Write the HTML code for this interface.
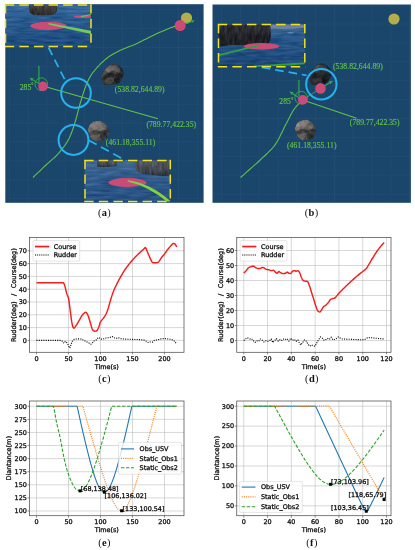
<!DOCTYPE html>
<html lang="en"><head><meta charset="utf-8"><title>Figure</title>
<style>html,body{margin:0;padding:0;background:#fff}svg{display:block}.g{font-family:"Liberation Serif", "DejaVu Serif", serif;font-size:7.7px;fill:#62c24a;stroke:#62c24a;stroke-width:0.15px;letter-spacing:0.03px}.t{font-family:"DejaVu Sans", "Liberation Sans", sans-serif;font-size:6.45px;fill:#111;stroke:#111;stroke-width:0.3px}.l{font-size:6.5px}.cap{font-family:"Liberation Serif", "DejaVu Serif", serif;font-size:10.4px;fill:#111;letter-spacing:0.35px}</style></head><body>
<svg width="415" height="550" viewBox="0 0 415 550">
<defs>
<linearGradient id="water" x1="0" y1="0" x2="0" y2="1"><stop offset="0" stop-color="#3c6c9e"/><stop offset="0.3" stop-color="#2c5d91"/><stop offset="1" stop-color="#1d497a"/></linearGradient>
<linearGradient id="water2" x1="0" y1="0" x2="0" y2="1"><stop offset="0" stop-color="#42698f"/><stop offset="0.3" stop-color="#345e8c"/><stop offset="1" stop-color="#244f80"/></linearGradient>
<linearGradient id="water3" x1="0" y1="0" x2="0" y2="1"><stop offset="0" stop-color="#38648f"/><stop offset="0.3" stop-color="#29588a"/><stop offset="1" stop-color="#1b4575"/></linearGradient>
<linearGradient id="rockg" x1="0" y1="0" x2="1" y2="1"><stop offset="0" stop-color="#66625f"/><stop offset="0.4" stop-color="#3d3c3b"/><stop offset="1" stop-color="#202125"/></linearGradient>
<linearGradient id="rockg2" x1="0" y1="0" x2="1" y2="1"><stop offset="0" stop-color="#8c8783"/><stop offset="0.5" stop-color="#615e5b"/><stop offset="1" stop-color="#2e2e32"/></linearGradient>
<linearGradient id="cliff" x1="0" y1="0" x2="0" y2="1"><stop offset="0" stop-color="#4e4b48"/><stop offset="1" stop-color="#2c2b2b"/></linearGradient>
<linearGradient id="cliff2" x1="0" y1="0" x2="0" y2="1"><stop offset="0" stop-color="#555b64"/><stop offset="0.7" stop-color="#434850"/><stop offset="1" stop-color="#2a2e35"/></linearGradient>
<linearGradient id="cliff3" x1="0" y1="0" x2="0" y2="1"><stop offset="0" stop-color="#2e3036"/><stop offset="1" stop-color="#1a1c20"/></linearGradient>
<filter id="waterf" x="0" y="0" width="100%" height="100%" color-interpolation-filters="sRGB"><feTurbulence type="fractalNoise" baseFrequency="0.06 0.38" numOctaves="2" seed="5" result="n"/><feColorMatrix in="n" type="matrix" values="1 0 0 0 0  1 0 0 0 0  1 0 0 0 0  0 0 0 0 1" result="g"/><feComposite in="SourceGraphic" in2="g" operator="arithmetic" k1="0" k2="1" k3="0.2" k4="-0.1" result="w"/><feGaussianBlur in="w" stdDeviation="0.5"/></filter>
<filter id="rocktex" x="-5%" y="-5%" width="110%" height="110%" color-interpolation-filters="sRGB"><feTurbulence type="fractalNoise" baseFrequency="0.22" numOctaves="2" seed="11" result="n"/><feColorMatrix in="n" type="matrix" values="1 0 0 0 0  1 0 0 0 0  1 0 0 0 0  0 0 0 0 1" result="g"/><feComposite in="SourceGraphic" in2="g" operator="arithmetic" k1="0" k2="1" k3="0.26" k4="-0.13" result="w"/><feComposite in="w" in2="SourceGraphic" operator="in" result="c"/><feGaussianBlur in="c" stdDeviation="0.45"/></filter>
<filter id="clifftex" x="-5%" y="-5%" width="110%" height="110%" color-interpolation-filters="sRGB"><feTurbulence type="fractalNoise" baseFrequency="0.4 0.12" numOctaves="2" seed="4" result="n"/><feColorMatrix in="n" type="matrix" values="1 0 0 0 0  1 0 0 0 0  1 0 0 0 0  0 0 0 0 1" result="g"/><feComposite in="SourceGraphic" in2="g" operator="arithmetic" k1="0" k2="1" k3="0.22" k4="-0.11" result="w"/><feComposite in="w" in2="SourceGraphic" operator="in" result="c"/><feGaussianBlur in="c" stdDeviation="0.4"/></filter>
<filter id="soft"><feGaussianBlur stdDeviation="0.35"/></filter>
</defs>
<rect width="415" height="550" fill="#fff"/>
<rect x="5.3" y="4.2" width="198.3" height="198.6" fill="#1b466c"/>
<path d="M9.3 4.2 V202.8 M28.1 4.2 V202.8 M46.9 4.2 V202.8 M65.7 4.2 V202.8 M84.5 4.2 V202.8 M103.3 4.2 V202.8 M122.1 4.2 V202.8 M140.9 4.2 V202.8 M159.7 4.2 V202.8 M178.5 4.2 V202.8 M197.3 4.2 V202.8 M5.3 9.7 H203.6 M5.3 28.6 H203.6 M5.3 47.5 H203.6 M5.3 66.4 H203.6 M5.3 85.3 H203.6 M5.3 104.2 H203.6 M5.3 123.1 H203.6 M5.3 142.0 H203.6 M5.3 160.9 H203.6 M5.3 179.8 H203.6 M5.3 198.7 H203.6" stroke="#ffffff" stroke-opacity="0.04" stroke-width="0.8" fill="none"/>
<path d="M33.0 177.5 L34.8 175.7 L37.5 173.2 L40.5 170.3 L43.4 167.4 L46.0 165.0 L48.1 163.1 L50.1 161.3 L51.9 159.7 L53.6 158.3 L55.0 157.0 L56.2 155.9 L57.1 154.9 L57.8 154.1 L58.6 153.3 L59.4 152.3 L60.3 151.2 L61.2 150.1 L62.2 148.9 L63.1 147.7 L64.0 146.5 L64.9 145.3 L65.7 144.1 L66.6 142.8 L67.4 141.6 L68.1 140.3 L68.8 139.1 L69.4 137.8 L69.9 136.6 L70.5 135.3 L71.0 134.0 L71.5 132.7 L72.0 131.4 L72.5 130.0 L73.0 128.6 L73.5 127.2 L74.0 125.7 L74.4 124.2 L74.9 122.6 L75.4 121.0 L75.8 119.5 L76.2 118.0 L76.7 116.5 L77.1 115.0 L77.5 113.4 L77.9 111.9 L78.3 110.3 L78.7 108.7 L79.2 107.1 L79.6 105.5 L80.0 104.0 L80.4 102.5 L80.9 101.1 L81.3 99.6 L81.7 98.2 L82.2 96.7 L82.7 95.2 L83.2 93.6 L83.6 92.1 L84.2 90.5 L84.7 89.0 L85.3 87.5 L85.8 85.9 L86.4 84.4 L87.0 82.9 L87.7 81.4 L88.4 80.0 L89.1 78.6 L89.9 77.2 L90.7 75.8 L91.5 74.5 L92.4 73.2 L93.3 72.0 L94.3 70.8 L95.3 69.5 L96.4 68.3 L97.5 67.0 L98.7 65.8 L99.9 64.5 L101.2 63.2 L102.5 62.0 L103.8 60.8 L105.2 59.6 L106.5 58.5 L108.0 57.4 L109.5 56.3 L111.1 55.3 L112.8 54.3 L114.5 53.3 L116.2 52.4 L118.0 51.5 L119.8 50.6 L121.6 49.8 L123.4 49.0 L125.3 48.2 L127.0 47.5 L128.7 46.8 L130.3 46.2 L132.0 45.6 L133.5 45.0 L135.0 44.4 L136.3 43.8 L137.4 43.3 L138.5 42.7 L139.8 42.0 L141.5 41.2 L143.6 40.1 L146.1 38.9 L148.7 37.6 L151.4 36.2 L154.0 35.0 L156.6 33.8 L159.2 32.6 L161.9 31.5 L164.3 30.4 L166.5 29.5 L168.3 28.7 L169.9 28.1 L171.3 27.5 L172.7 27.1 L174.0 26.6 L175.4 26.2 L176.8 25.8 L178.1 25.5 L179.2 25.2 L180.0 25.0" fill="none" stroke="#62c24a" stroke-width="1.1" stroke-linejoin="round"/>
<path d="M43 86 L158 118.8" stroke="#62c24a" stroke-width="1.05" fill="none"/>
<g filter="url(#rocktex)">
<path d="M105.3 69.1 L108.5 65.0 L114.3 63.4 L119.2 65.8 L122.5 69.1 L123.8 73.2 L122.5 78.1 L119.2 83.0 L114.3 84.6 L108.5 85.5 L103.6 84.6 L101.7 80.5 L102.0 75.6 L103.3 71.5Z" fill="url(#rockg)"/>
<path d="M105.5 69.6 L110.1 65.2 L116.3 65.6 L113.2 70.5 L108.3 73.3Z" fill="#8d8783" fill-opacity="0.5"/>
<path d="M116.3 65.6 L120.7 68.9 L119.4 73.3 L113.2 70.5Z" fill="#7a7572" fill-opacity="0.35"/>
<path d="M115.4 74.5 L119.8 72.7 L123.4 74.5 L121.6 80.6 L116.7 84.4 L113.9 81.1Z" fill="#17181c" fill-opacity="0.5"/>
<path d="M103.0 75.6 L108.3 73.1 L115.4 74.5 L113.9 77.5 L107.2 78.0 L103.5 79.3Z" fill="#17181c" fill-opacity="0.45"/>
<path d="M104.4 80.2 L107.2 78.0 L113.9 77.5 L113.9 81.1 L110.1 84.6 L105.7 83.3Z" fill="#6c6865" fill-opacity="0.35"/>
</g>
<g filter="url(#rocktex)">
<path d="M89.7 124.7 L93.0 121.5 L100.4 120.6 L104.5 123.1 L107.7 126.4 L109.4 132.9 L107.7 137.0 L105.3 140.3 L100.4 141.4 L96.3 141.9 L92.2 139.5 L89.7 136.2 L87.6 129.6Z" fill="url(#rockg2)"/>
<path d="M91.3 126.6 L95.9 122.3 L102.0 122.7 L98.9 127.4 L94.1 130.2Z" fill="#8d8783" fill-opacity="0.5"/>
<path d="M102.0 122.7 L106.3 125.9 L105.0 130.2 L98.9 127.4Z" fill="#7a7572" fill-opacity="0.35"/>
<path d="M101.1 131.2 L105.5 129.5 L109.0 131.2 L107.2 137.2 L102.4 140.8 L99.6 137.6Z" fill="#17181c" fill-opacity="0.5"/>
<path d="M88.9 132.3 L94.1 130.0 L101.1 131.2 L99.6 134.2 L93.0 134.7 L89.3 135.9Z" fill="#17181c" fill-opacity="0.45"/>
<path d="M90.2 136.8 L93.0 134.7 L99.6 134.2 L99.6 137.6 L95.9 141.0 L91.5 139.8Z" fill="#6c6865" fill-opacity="0.35"/>
</g>
<text class="g" x="114.8" y="92">(538.82,644.89)</text>
<text class="g" x="146.4" y="126.8">(789.77,422.35)</text>
<text class="g" x="105.8" y="144.6">(461.18,355.11)</text>
<circle cx="41.3" cy="84.2" r="6.3" fill="none" stroke="#35ae4a" stroke-width="0.9"/>
<path d="M38.9 65.8 V83.0" stroke="#35ae4a" stroke-width="1.1" fill="none"/>
<path d="M43.0 86.4 L32.9 79.9" stroke="#35ae4a" stroke-width="1.05" fill="none"/>
<path d="M29.5 77.7 L33.8 78.4 L31.9 81.3 Z" fill="#35ae4a"/>
<circle cx="43.0" cy="86.4" r="4.8" fill="#cb4b76"/>
<text class="g" x="19.7" y="89.6">285<tspan font-size="5.5" dy="-2.2">°</tspan></text>
<circle cx="186.5" cy="18" r="5.6" fill="#b3ae4b"/>
<circle cx="180.2" cy="25.5" r="5.5" fill="#cb4b76"/>
<path d="M186.0 23.6 L191.8 21.5" stroke="#35ae4a" stroke-width="1.05" fill="none"/>
<path d="M194.8 20.4 L192.3 22.8 L191.3 20.2 Z" fill="#35ae4a"/>
<circle cx="76" cy="93" r="14.8" fill="none" stroke="#25b3ee" stroke-width="2"/>
<circle cx="73.5" cy="140" r="14.9" fill="none" stroke="#25b3ee" stroke-width="2"/>
<path d="M48.5 47.5 L66 82" stroke="#25b3ee" stroke-width="1.7" stroke-dasharray="8.5 5" fill="none"/>
<path d="M88.7 140.2 L127.5 161.6" stroke="#25b3ee" stroke-width="1.7" stroke-dasharray="9 5" fill="none"/>
<clipPath id="ca1"><rect x="5.5" y="5.0" width="85.5" height="41.5"/></clipPath>
<g clip-path="url(#ca1)">
<rect x="4.5" y="4.0" width="87.5" height="43.5" fill="url(#water)" filter="url(#waterf)"/>
<path d="M29 3 H57 V10.5 Q56.5 14.5 50 15.2 H36 Q29.5 14.6 29 10.5Z" fill="url(#cliff)" filter="url(#clifftex)"/>
<ellipse cx="83" cy="16.7" rx="9.5" ry="1.4" fill="#cb4b76"/>
<path d="M81 16.6 L91 14.6" stroke="#6dbf55" stroke-width="1.1"/>
<ellipse cx="48.5" cy="25.9" rx="18.2" ry="4.1" fill="#cb4b76"/>
<path d="M48.5 23.1 L91.5 30.9 V34.2 L48.5 24.5Z" fill="#74c95a"/>
</g>
<path d="M4.8 5.0 H91.8 M4.8 46.5 H91.8 M5.5 4.2 V47.2 M91.0 4.2 V47.2" fill="none" stroke="#f2e21a" stroke-width="1.5" stroke-dasharray="9.4 5.2" stroke-linecap="butt"/>
<clipPath id="ca2"><rect x="85.0" y="160.5" width="85.3" height="40.9"/></clipPath>
<g clip-path="url(#ca2)">
<rect x="84.0" y="159.5" width="87.3" height="42.9" fill="url(#water2)" filter="url(#waterf)"/>
<path d="M97 158 H116.8 V166 Q108 167.6 97 166.8Z" fill="url(#cliff2)" filter="url(#clifftex)"/>
<path d="M135.2 158 H171 V175.5 Q160 177 150 174.6 Q140 174.6 135.6 170Z" fill="url(#cliff2)" filter="url(#clifftex)"/>
<ellipse cx="127.5" cy="182.5" rx="19" ry="4.4" fill="#cb4b76"/>
<path d="M127.7 180.3 Q150 183 171 201.5 L167.5 202 Q148 186 127.7 181.4Z" fill="#80d23f"/>
</g>
<path d="M84.2 160.5 H171.1 M84.2 201.4 H171.1 M85.0 159.8 V202.2 M170.3 159.8 V202.2" fill="none" stroke="#f2e21a" stroke-width="1.5" stroke-dasharray="9.4 5.2" stroke-linecap="butt"/>
<rect x="212.5" y="4.5" width="198.4" height="198.3" fill="#1b466c"/>
<path d="M221.6 4.5 V202.8 M240.4 4.5 V202.8 M259.2 4.5 V202.8 M278.0 4.5 V202.8 M296.8 4.5 V202.8 M315.6 4.5 V202.8 M334.4 4.5 V202.8 M353.2 4.5 V202.8 M372.0 4.5 V202.8 M390.8 4.5 V202.8 M409.6 4.5 V202.8 M212.5 5.1 H410.9 M212.5 24.0 H410.9 M212.5 42.9 H410.9 M212.5 61.8 H410.9 M212.5 80.7 H410.9 M212.5 99.6 H410.9 M212.5 118.5 H410.9 M212.5 137.4 H410.9 M212.5 156.3 H410.9 M212.5 175.2 H410.9 M212.5 194.1 H410.9" stroke="#ffffff" stroke-opacity="0.04" stroke-width="0.8" fill="none"/>
<path d="M240.5 177.5 L241.6 176.5 L243.3 175.1 L245.2 173.4 L247.1 171.7 L249.0 170.0 L250.8 168.4 L252.6 166.8 L254.4 165.2 L256.3 163.6 L258.0 162.0 L259.7 160.5 L261.3 158.9 L262.9 157.4 L264.5 156.0 L266.0 154.5 L267.5 153.1 L269.0 151.6 L270.4 150.2 L271.8 148.9 L273.0 147.5 L274.1 146.2 L275.0 144.9 L275.8 143.7 L276.7 142.4 L277.5 141.0 L278.3 139.5 L279.2 137.9 L280.0 136.3 L280.8 134.6 L281.6 133.0 L282.4 131.4 L283.2 129.8 L284.0 128.1 L284.7 126.6 L285.5 125.0 L286.3 123.5 L287.1 121.9 L287.9 120.4 L288.6 119.0 L289.3 117.7 L289.9 116.5 L290.4 115.4 L291.0 114.4 L291.5 113.5 L292.0 112.5 L292.6 111.5 L293.2 110.6 L293.7 109.7 L294.4 108.9 L295.0 108.0 L295.7 107.2 L296.3 106.4 L297.0 105.6 L297.7 104.8 L298.5 104.0 L299.4 103.1 L300.3 102.2 L301.3 101.2 L302.1 100.5 L302.7 99.9" fill="none" stroke="#62c24a" stroke-width="1.1" stroke-linejoin="round"/>
<path d="M302.7 99.9 L356.5 118.2" stroke="#62c24a" stroke-width="1.05" fill="none"/>
<g filter="url(#rocktex)">
<path d="M313.0 68.9 L316.2 64.8 L322.0 63.2 L326.9 65.6 L330.2 68.9 L331.5 73.0 L330.2 77.9 L326.9 82.8 L322.0 84.4 L316.2 85.3 L311.3 84.4 L309.4 80.3 L309.7 75.4 L311.0 71.3Z" fill="url(#rockg)"/>
<path d="M313.2 69.4 L317.8 65.0 L324.0 65.4 L320.9 70.3 L316.0 73.1Z" fill="#8d8783" fill-opacity="0.5"/>
<path d="M324.0 65.4 L328.4 68.7 L327.1 73.1 L320.9 70.3Z" fill="#7a7572" fill-opacity="0.35"/>
<path d="M323.1 74.2 L327.5 72.5 L331.1 74.2 L329.3 80.4 L324.4 84.2 L321.6 80.9Z" fill="#17181c" fill-opacity="0.5"/>
<path d="M310.7 75.4 L316.0 72.9 L323.1 74.2 L321.6 77.3 L314.9 77.8 L311.2 79.1Z" fill="#17181c" fill-opacity="0.45"/>
<path d="M312.1 80.0 L314.9 77.8 L321.6 77.3 L321.6 80.9 L317.8 84.4 L313.4 83.1Z" fill="#6c6865" fill-opacity="0.35"/>
</g>
<path d="M313.0 68.9 L316.2 64.8 L322.0 63.2 L326.9 65.6 L330.2 68.9 L331.5 73.0 L330.2 77.9 L326.9 82.8 L322.0 84.4 L316.2 85.3 L311.3 84.4 L309.4 80.3 L309.7 75.4 L311.0 71.3Z" fill="#0c1522" fill-opacity="0.38"/>
<g filter="url(#rocktex)">
<path d="M296.7 123.6 L300.0 120.4 L307.4 119.5 L311.5 122.0 L314.7 125.3 L316.4 131.8 L314.7 135.9 L312.3 139.2 L307.4 140.3 L303.3 140.8 L299.2 138.4 L296.7 135.1 L294.6 128.5Z" fill="url(#rockg2)"/>
<path d="M298.3 125.5 L302.9 121.2 L309.0 121.6 L305.9 126.3 L301.1 129.1Z" fill="#8d8783" fill-opacity="0.5"/>
<path d="M309.0 121.6 L313.3 124.8 L312.0 129.1 L305.9 126.3Z" fill="#7a7572" fill-opacity="0.35"/>
<path d="M308.1 130.2 L312.5 128.4 L316.0 130.2 L314.2 136.1 L309.4 139.7 L306.6 136.5Z" fill="#17181c" fill-opacity="0.5"/>
<path d="M295.9 131.2 L301.1 128.9 L308.1 130.2 L306.6 133.1 L300.1 133.6 L296.3 134.8Z" fill="#17181c" fill-opacity="0.45"/>
<path d="M297.2 135.7 L300.1 133.6 L306.6 133.1 L306.6 136.5 L302.9 139.9 L298.5 138.7Z" fill="#6c6865" fill-opacity="0.35"/>
</g>
<text class="g" x="333" y="68.9">(538.82,644.89)</text>
<text class="g" x="349.8" y="125.4">(789.77,422.35)</text>
<text class="g" x="287" y="147.8">(461.18,355.11)</text>
<path d="M302.7 99.9 L320.5 88.4" stroke="#35ae4a" stroke-width="0.9"/>
<circle cx="301.1" cy="97.7" r="6.3" fill="none" stroke="#35ae4a" stroke-width="0.9"/>
<path d="M298.9 80.0 V96.0" stroke="#35ae4a" stroke-width="1.1" fill="none"/>
<path d="M302.8 99.9 L292.7 93.7" stroke="#35ae4a" stroke-width="1.05" fill="none"/>
<path d="M289.3 91.6 L293.6 92.3 L291.8 95.1 Z" fill="#35ae4a"/>
<circle cx="302.8" cy="99.9" r="4.8" fill="#cb4b76"/>
<text class="g" x="279.3" y="103.9">285<tspan font-size="5.5" dy="-2.2">°</tspan></text>
<path d="M320.5 88.4 L329.6 82.8" stroke="#35ae4a" stroke-width="1.05" fill="none"/>
<path d="M333.0 80.7 L330.5 84.2 L328.7 81.4 Z" fill="#35ae4a"/>
<circle cx="320.5" cy="88.4" r="5.3" fill="#cb4b76"/>
<circle cx="321.35" cy="84.3" r="15.2" fill="none" stroke="#25b3ee" stroke-width="2"/>
<path d="M262 67.5 L306.5 75.3" stroke="#25b3ee" stroke-width="1.7" stroke-dasharray="8.5 5" fill="none"/>
<circle cx="394" cy="19" r="5.6" fill="#b3ae4b"/>
<clipPath id="cb1"><rect x="218.5" y="24.6" width="86.3" height="42.2"/></clipPath>
<g clip-path="url(#cb1)">
<rect x="217.5" y="23.6" width="88.3" height="44.2" fill="url(#water3)" filter="url(#waterf)"/>
<path d="M270 24 H306 V27.6 Q288 29.5 270 28.6Z" fill="#7f8fa3" fill-opacity="0.75"/>
<path d="M218 24 H270.6 V31 Q271.5 40 269 44 Q252 46.5 240 45 Q230 44.5 221 46.5 L218 47Z" fill="url(#cliff3)" filter="url(#clifftex)"/>
<ellipse cx="290.5" cy="32.8" rx="3.5" ry="0.7" fill="#6f93bd" fill-opacity="0.8"/>
<ellipse cx="261.5" cy="46.2" rx="17.8" ry="3.2" fill="#cb4b76"/>
<path d="M217 55.6 L260.3 45" stroke="#2fa044" stroke-width="1.7" fill="none"/>
<path d="M254 66.4 L306 63.3" stroke="#2fa044" stroke-width="2" fill="none"/>
</g>
<path d="M217.8 24.6 H305.6 M217.8 66.8 H305.6 M218.5 23.9 V67.5 M304.8 23.9 V67.5" fill="none" stroke="#f2e21a" stroke-width="1.5" stroke-dasharray="9.4 5.2" stroke-linecap="butt"/>
<text class="cap" x="104.5" y="216.0" text-anchor="middle">(<tspan font-weight="bold">a</tspan>)</text>
<text class="cap" x="311.6" y="216.0" text-anchor="middle">(<tspan font-weight="bold">b</tspan>)</text>
<rect x="29.50" y="237.40" width="154.50" height="114.90" fill="#fff"/>
<path d="M36.50 237.40 V352.30 M68.50 237.40 V352.30 M100.50 237.40 V352.30 M132.50 237.40 V352.30 M164.50 237.40 V352.30 M29.50 340.40 H184.00 M29.50 327.60 H184.00 M29.50 314.80 H184.00 M29.50 302.00 H184.00 M29.50 289.20 H184.00 M29.50 276.40 H184.00 M29.50 263.60 H184.00 M29.50 250.80 H184.00" stroke="#b0b0b0" stroke-width="0.5" fill="none"/>
<path d="M36.50 352.30 v2 M68.50 352.30 v2 M100.50 352.30 v2 M132.50 352.30 v2 M164.50 352.30 v2 M29.50 340.40 h-2 M29.50 327.60 h-2 M29.50 314.80 h-2 M29.50 302.00 h-2 M29.50 289.20 h-2 M29.50 276.40 h-2 M29.50 263.60 h-2 M29.50 250.80 h-2" stroke="#222" stroke-width="0.5" fill="none"/>
<text class="t" x="36.50" y="360.90" text-anchor="middle">0</text>
<text class="t" x="68.50" y="360.90" text-anchor="middle">50</text>
<text class="t" x="100.50" y="360.90" text-anchor="middle">100</text>
<text class="t" x="132.50" y="360.90" text-anchor="middle">150</text>
<text class="t" x="164.50" y="360.90" text-anchor="middle">200</text>
<text class="t" x="26.90" y="342.70" text-anchor="end">0</text>
<text class="t" x="26.90" y="329.90" text-anchor="end">10</text>
<text class="t" x="26.90" y="317.10" text-anchor="end">20</text>
<text class="t" x="26.90" y="304.30" text-anchor="end">30</text>
<text class="t" x="26.90" y="291.50" text-anchor="end">40</text>
<text class="t" x="26.90" y="278.70" text-anchor="end">50</text>
<text class="t" x="26.90" y="265.90" text-anchor="end">60</text>
<text class="t" x="26.90" y="253.10" text-anchor="end">70</text>
<text class="t" x="106.75" y="368.60" text-anchor="middle">Time(s)</text>
<g transform="translate(15.90 294.85) rotate(-90)">
<text class="t l" x="-6.6" text-anchor="end">Rudder(deg)</text><text class="t l" x="0" text-anchor="middle">/</text><text class="t l" x="6.6">Course(deg)</text>
</g>
<text class="cap" x="104.5" y="382.1" text-anchor="middle">(<tspan font-weight="bold">c</tspan>)</text>
<path d="M36.50 340.40 L37.14 340.40 L37.78 340.40 L38.42 340.40 L39.06 340.40 L39.70 340.40 L40.34 340.40 L40.98 340.40 L41.62 340.40 L42.26 340.40 L42.90 340.40 L43.54 340.40 L44.18 340.40 L44.82 340.40 L45.46 340.40 L46.10 340.40 L46.74 340.40 L47.38 340.40 L48.02 340.40 L48.66 340.40 L49.30 340.40 L49.94 340.40 L50.58 340.40 L51.22 340.40 L51.86 340.40 L52.50 340.40 L53.14 340.40 L53.78 340.40 L54.42 340.40 L55.06 340.40 L55.70 340.40 L56.34 340.40 L56.98 340.40 L57.62 340.40 L58.26 340.40 L58.90 340.40 L59.54 340.40 L60.18 340.40 L60.82 340.40 L61.46 340.61 L62.10 341.10 L62.74 341.68 L63.38 342.59 L64.02 343.22 L64.66 342.32 L65.30 341.42 L65.94 341.72 L66.58 342.32 L67.22 343.16 L67.86 344.31 L68.50 345.52 L69.14 347.09 L69.78 348.08 L70.42 346.55 L71.06 344.24 L71.70 342.69 L72.34 341.33 L72.98 340.40 L73.62 339.81 L74.26 339.35 L74.90 339.12 L75.54 339.03 L76.18 338.96 L76.82 338.91 L77.46 338.87 L78.10 338.86 L78.74 338.88 L79.38 338.91 L80.02 338.96 L80.66 339.04 L81.30 339.12 L81.94 339.31 L82.58 339.65 L83.22 340.04 L83.86 340.40 L84.50 340.72 L85.14 341.04 L85.78 341.36 L86.42 341.68 L87.06 341.99 L87.70 342.30 L88.34 342.61 L88.98 342.96 L89.62 343.46 L90.26 343.99 L90.90 344.24 L91.54 343.88 L92.18 343.10 L92.82 342.32 L93.46 341.61 L94.10 340.90 L94.74 340.40 L95.38 340.17 L96.02 340.00 L96.66 339.76 L97.30 339.01 L97.94 337.98 L98.58 337.46 L99.22 337.79 L99.86 338.43 L100.50 338.86 L101.14 338.99 L101.78 339.09 L102.42 339.12 L103.06 339.03 L103.70 338.82 L104.34 338.61 L104.98 338.40 L105.62 338.18 L106.26 337.98 L106.90 337.84 L107.54 337.77 L108.18 337.72 L108.82 337.66 L109.46 337.58 L110.10 337.37 L110.74 337.02 L111.38 336.70 L112.02 336.56 L112.66 336.76 L113.30 337.19 L113.94 337.58 L114.58 337.91 L115.22 338.22 L115.86 338.35 L116.50 338.27 L117.14 338.10 L117.78 337.92 L118.42 337.84 L119.06 337.94 L119.70 338.17 L120.34 338.43 L120.98 338.61 L121.62 338.70 L122.26 338.79 L122.90 338.86 L123.54 338.93 L124.18 338.99 L124.82 339.04 L125.46 339.08 L126.10 339.12 L126.74 339.15 L127.38 339.19 L128.02 339.21 L128.66 339.24 L129.30 339.26 L129.94 339.28 L130.58 339.31 L131.22 339.33 L131.86 339.35 L132.50 339.38 L133.14 339.40 L133.78 339.42 L134.42 339.45 L135.06 339.47 L135.70 339.49 L136.34 339.51 L136.98 339.54 L137.62 339.57 L138.26 339.60 L138.90 339.63 L139.54 339.67 L140.18 339.71 L140.82 339.76 L141.46 339.81 L142.10 339.87 L142.74 339.95 L143.38 340.04 L144.02 340.14 L144.66 340.35 L145.30 340.68 L145.94 341.06 L146.58 341.42 L147.22 341.84 L147.86 342.26 L148.50 342.45 L149.14 342.32 L149.78 342.07 L150.42 341.94 L151.06 342.00 L151.70 342.13 L152.34 342.19 L152.98 341.78 L153.62 340.96 L154.26 340.40 L154.90 340.22 L155.54 340.10 L156.18 340.00 L156.82 339.89 L157.46 339.76 L158.10 339.64 L158.74 339.51 L159.38 339.38 L160.02 339.21 L160.66 339.01 L161.30 338.84 L161.94 338.74 L162.58 338.69 L163.22 338.65 L163.86 338.62 L164.50 338.61 L165.14 338.64 L165.78 338.71 L166.42 338.80 L167.06 338.90 L167.70 338.99 L168.34 339.06 L168.98 339.12 L169.62 339.19 L170.26 339.27 L170.90 339.38 L171.54 339.54 L172.18 339.77 L172.82 340.06 L173.46 340.40 L174.10 340.86 L174.74 341.47 L175.38 342.19 L176.02 343.15 L176.66 344.24" fill="none" stroke="#000" stroke-width="1.1" stroke-dasharray="1.05 1.25"/>
<path d="M36.50 282.80 L37.14 282.80 L37.78 282.80 L38.42 282.80 L39.06 282.80 L39.70 282.80 L40.34 282.80 L40.98 282.80 L41.62 282.80 L42.26 282.80 L42.90 282.80 L43.54 282.80 L44.18 282.80 L44.82 282.80 L45.46 282.80 L46.10 282.80 L46.74 282.80 L47.38 282.80 L48.02 282.80 L48.66 282.80 L49.30 282.80 L49.94 282.80 L50.58 282.80 L51.22 282.80 L51.86 282.80 L52.50 282.80 L53.14 282.80 L53.78 282.80 L54.42 282.80 L55.06 282.80 L55.70 282.80 L56.34 282.80 L56.98 282.80 L57.62 282.80 L58.26 282.80 L58.90 282.80 L59.54 282.80 L60.18 282.80 L60.82 282.80 L61.46 282.80 L62.10 282.80 L62.74 282.80 L63.38 282.80 L64.02 283.66 L64.66 285.36 L65.30 287.64 L65.94 290.51 L66.58 293.04 L67.22 294.72 L67.86 296.18 L68.50 298.16 L69.14 301.93 L69.78 307.16 L70.42 312.24 L71.06 317.04 L71.70 321.71 L72.34 325.04 L72.98 327.20 L73.62 328.24 L74.26 327.91 L74.90 327.16 L75.54 326.32 L76.18 325.46 L76.82 324.46 L77.46 323.38 L78.10 322.28 L78.74 321.20 L79.38 320.10 L80.02 318.92 L80.66 317.73 L81.30 316.60 L81.94 315.60 L82.58 314.80 L83.22 314.10 L83.86 313.41 L84.50 312.81 L85.14 312.40 L85.78 312.24 L86.42 312.65 L87.06 313.62 L87.70 314.80 L88.34 316.29 L88.98 318.26 L89.62 320.42 L90.26 322.48 L90.90 324.65 L91.54 327.00 L92.18 329.00 L92.82 330.16 L93.46 330.67 L94.10 331.04 L94.74 331.18 L95.38 331.14 L96.02 331.00 L96.66 330.80 L97.30 330.17 L97.94 328.99 L98.58 327.60 L99.22 325.75 L99.86 323.54 L100.50 321.84 L101.14 320.86 L101.78 320.10 L102.42 319.41 L103.06 318.64 L103.70 317.77 L104.34 316.88 L104.98 315.91 L105.62 314.80 L106.26 313.47 L106.90 311.93 L107.54 310.22 L108.18 308.40 L108.82 306.34 L109.46 304.02 L110.10 301.65 L110.74 299.44 L111.38 297.38 L112.02 295.38 L112.66 293.49 L113.30 291.76 L113.94 290.19 L114.58 288.73 L115.22 287.34 L115.86 286.01 L116.50 284.72 L117.14 283.44 L117.78 282.17 L118.42 280.93 L119.06 279.71 L119.70 278.52 L120.34 277.36 L120.98 276.22 L121.62 275.12 L122.26 274.04 L122.90 272.98 L123.54 271.95 L124.18 270.94 L124.82 269.95 L125.46 269.00 L126.10 268.08 L126.74 267.19 L127.38 266.33 L128.02 265.49 L128.66 264.68 L129.30 263.88 L129.94 263.09 L130.58 262.32 L131.22 261.56 L131.86 260.80 L132.50 260.06 L133.14 259.33 L133.78 258.61 L134.42 257.91 L135.06 257.23 L135.70 256.56 L136.34 255.91 L136.98 255.28 L137.62 254.67 L138.26 254.07 L138.90 253.47 L139.54 252.88 L140.18 252.29 L140.82 251.70 L141.46 251.11 L142.10 250.54 L142.74 249.96 L143.38 249.37 L144.02 248.75 L144.66 248.02 L145.30 247.52 L145.94 248.21 L146.58 249.74 L147.22 251.44 L147.86 252.98 L148.50 254.46 L149.14 255.92 L149.78 257.39 L150.42 258.83 L151.06 260.14 L151.70 261.41 L152.34 262.32 L152.98 262.76 L153.62 262.83 L154.26 262.83 L154.90 262.83 L155.54 262.83 L156.18 262.80 L156.82 262.70 L157.46 262.54 L158.10 262.32 L158.74 261.71 L159.38 260.87 L160.02 259.87 L160.66 258.81 L161.30 257.84 L161.94 257.02 L162.58 256.26 L163.22 255.53 L163.86 254.79 L164.50 254.00 L165.14 253.14 L165.78 252.22 L166.42 251.30 L167.06 250.38 L167.70 249.52 L168.34 248.70 L168.98 247.89 L169.62 247.11 L170.26 246.37 L170.90 245.68 L171.54 244.95 L172.18 244.20 L172.82 243.61 L173.46 243.38 L174.10 243.52 L174.74 243.89 L175.38 244.40 L176.02 245.50 L176.66 246.96" fill="none" stroke="#f51d1d" stroke-width="1.45" stroke-linejoin="round"/>
<rect x="29.50" y="237.40" width="154.50" height="114.90" fill="none" stroke="#4d4d4d" stroke-width="0.75"/>
<rect x="33.00" y="240.50" width="46.70" height="20.60" rx="1.2" fill="#fff" fill-opacity="0.8" stroke="#ccc" stroke-width="0.5"/>
<path d="M35.00 246.55 H49.20" stroke="#f51d1d" stroke-width="1.7" fill="none"/>
<text class="t" x="53.80" y="248.85">Course</text>
<path d="M35.00 255.05 H49.20" stroke="#000" stroke-width="1.1" stroke-dasharray="1.05 1.05" fill="none"/>
<text class="t" x="53.80" y="257.35">Rudder</text>
<rect x="236.75" y="237.40" width="154.25" height="114.90" fill="#fff"/>
<path d="M243.75 237.40 V352.30 M267.54 237.40 V352.30 M291.33 237.40 V352.30 M315.13 237.40 V352.30 M338.92 237.40 V352.30 M362.71 237.40 V352.30 M386.50 237.40 V352.30 M236.75 340.50 H391.00 M236.75 325.50 H391.00 M236.75 310.50 H391.00 M236.75 295.50 H391.00 M236.75 280.50 H391.00 M236.75 265.50 H391.00 M236.75 250.50 H391.00" stroke="#b0b0b0" stroke-width="0.5" fill="none"/>
<path d="M243.75 352.30 v2 M267.54 352.30 v2 M291.33 352.30 v2 M315.13 352.30 v2 M338.92 352.30 v2 M362.71 352.30 v2 M386.50 352.30 v2 M236.75 340.50 h-2 M236.75 325.50 h-2 M236.75 310.50 h-2 M236.75 295.50 h-2 M236.75 280.50 h-2 M236.75 265.50 h-2 M236.75 250.50 h-2" stroke="#222" stroke-width="0.5" fill="none"/>
<text class="t" x="243.75" y="360.90" text-anchor="middle">0</text>
<text class="t" x="267.54" y="360.90" text-anchor="middle">20</text>
<text class="t" x="291.33" y="360.90" text-anchor="middle">40</text>
<text class="t" x="315.13" y="360.90" text-anchor="middle">60</text>
<text class="t" x="338.92" y="360.90" text-anchor="middle">80</text>
<text class="t" x="362.71" y="360.90" text-anchor="middle">100</text>
<text class="t" x="386.50" y="360.90" text-anchor="middle">120</text>
<text class="t" x="234.15" y="342.80" text-anchor="end">0</text>
<text class="t" x="234.15" y="327.80" text-anchor="end">10</text>
<text class="t" x="234.15" y="312.80" text-anchor="end">20</text>
<text class="t" x="234.15" y="297.80" text-anchor="end">30</text>
<text class="t" x="234.15" y="282.80" text-anchor="end">40</text>
<text class="t" x="234.15" y="267.80" text-anchor="end">50</text>
<text class="t" x="234.15" y="252.80" text-anchor="end">60</text>
<text class="t" x="313.88" y="368.60" text-anchor="middle">Time(s)</text>
<g transform="translate(223.40 294.85) rotate(-90)">
<text class="t l" x="-6.6" text-anchor="end">Rudder(deg)</text><text class="t l" x="0" text-anchor="middle">/</text><text class="t l" x="6.6">Course(deg)</text>
</g>
<text class="cap" x="312.0" y="382.1" text-anchor="middle">(<tspan font-weight="bold">d</tspan>)</text>
<path d="M243.75 340.50 L244.34 340.00 L244.94 339.50 L245.53 339.00 L246.13 338.60 L246.72 338.20 L247.32 337.80 L247.91 338.10 L248.51 338.40 L249.10 338.70 L249.70 339.00 L250.29 338.90 L250.89 338.80 L251.48 338.70 L252.08 339.30 L252.67 339.90 L253.27 340.50 L253.86 341.10 L254.46 341.70 L255.05 342.30 L255.65 341.80 L256.24 341.30 L256.84 340.80 L257.43 341.00 L258.03 341.20 L258.62 341.40 L259.21 340.60 L259.81 339.80 L260.40 339.00 L261.00 339.40 L261.59 339.80 L262.19 340.20 L262.78 340.80 L263.38 341.40 L263.97 342.00 L264.57 341.60 L265.16 341.20 L265.76 340.80 L266.35 341.00 L266.95 341.20 L267.54 341.40 L268.14 341.30 L268.73 341.20 L269.33 341.10 L269.92 340.40 L270.52 339.70 L271.11 339.00 L271.71 340.20 L272.30 341.40 L272.90 342.60 L273.49 341.90 L274.08 341.20 L274.68 340.50 L275.27 339.90 L275.87 339.30 L276.46 338.70 L277.06 339.50 L277.65 340.30 L278.25 341.10 L278.84 340.60 L279.44 340.10 L280.03 339.60 L280.63 339.90 L281.22 340.20 L281.82 340.50 L282.41 340.00 L283.01 339.50 L283.60 339.00 L284.20 339.20 L284.79 339.40 L285.39 339.60 L285.98 339.30 L286.58 339.00 L287.17 338.70 L287.77 339.50 L288.36 340.30 L288.95 341.10 L289.55 340.10 L290.14 339.10 L290.74 338.10 L291.33 338.80 L291.93 339.50 L292.52 340.20 L293.12 339.90 L293.71 339.60 L294.31 339.30 L294.90 340.00 L295.50 340.70 L296.09 341.40 L296.69 340.90 L297.28 340.40 L297.88 339.90 L298.47 341.10 L299.07 342.30 L299.66 343.50 L300.26 344.25 L300.85 345.00 L301.45 344.20 L302.04 343.40 L302.64 342.60 L303.23 341.70 L303.82 340.80 L304.42 339.90 L305.01 340.30 L305.61 340.70 L306.20 341.10 L306.80 342.10 L307.39 343.10 L307.99 344.10 L308.58 344.80 L309.18 345.50 L309.77 346.20 L310.37 345.80 L310.96 345.40 L311.56 345.00 L312.15 345.30 L312.75 345.60 L313.34 345.90 L313.94 346.00 L314.53 346.10 L315.13 346.20 L315.72 345.00 L316.32 343.80 L316.91 342.60 L317.51 341.60 L318.10 340.60 L318.69 339.60 L319.29 338.70 L319.88 337.80 L320.48 336.90 L321.07 337.30 L321.67 337.70 L322.26 338.10 L322.86 338.80 L323.45 339.50 L324.05 340.20 L324.64 340.00 L325.24 339.80 L325.83 339.60 L326.43 339.20 L327.02 338.80 L327.62 338.40 L328.21 338.70 L328.81 339.00 L329.40 339.30 L330.00 338.60 L330.59 337.90 L331.19 337.20 L331.78 338.10 L332.38 339.00 L332.97 339.90 L333.56 339.70 L334.16 339.50 L334.75 339.30 L335.35 339.00 L335.94 338.70 L336.54 338.40 L337.13 337.90 L337.73 337.40 L338.32 336.90 L338.92 337.30 L339.51 337.70 L340.11 338.10 L340.70 338.32 L341.30 338.55 L341.89 338.77 L342.49 339.00 L343.08 339.02 L343.68 339.05 L344.27 339.07 L344.87 339.10 L345.46 339.12 L346.06 339.15 L346.65 339.17 L347.25 339.19 L347.84 339.21 L348.43 339.23 L349.03 339.24 L349.62 339.26 L350.22 339.28 L350.81 339.30 L351.41 339.33 L352.00 339.36 L352.60 339.39 L353.19 339.42 L353.79 339.45 L354.38 339.48 L354.98 339.51 L355.57 339.54 L356.17 339.57 L356.76 339.60 L357.36 339.62 L357.95 339.63 L358.55 339.64 L359.14 339.66 L359.74 339.68 L360.33 339.69 L360.93 339.70 L361.52 339.72 L362.12 339.74 L362.71 339.75 L363.30 339.64 L363.90 339.52 L364.49 339.41 L365.09 339.30 L365.68 338.93 L366.28 338.55 L366.87 338.18 L367.47 337.80 L368.06 337.76 L368.66 337.73 L369.25 337.69 L369.85 337.65 L370.44 337.71 L371.04 337.76 L371.63 337.82 L372.23 337.88 L372.82 337.93 L373.42 337.99 L374.01 338.04 L374.61 338.10 L375.20 338.16 L375.80 338.21 L376.39 338.27 L376.99 338.32 L377.58 338.38 L378.17 338.44 L378.77 338.49 L379.36 338.55 L379.96 338.61 L380.55 338.66 L381.15 338.72 L381.74 338.77 L382.34 338.83 L382.93 338.89 L383.53 338.94 L384.12 339.00" fill="none" stroke="#000" stroke-width="1.1" stroke-dasharray="1.05 1.25" stroke-linejoin="round"/>
<path d="M243.75 273.00 L244.34 272.45 L244.94 271.92 L245.53 271.36 L246.13 270.75 L246.72 269.99 L247.32 269.12 L247.91 268.32 L248.51 267.75 L249.10 267.40 L249.70 267.13 L250.29 266.90 L250.89 266.70 L251.48 266.50 L252.08 266.30 L252.67 266.16 L253.27 266.10 L253.86 266.28 L254.46 266.71 L255.05 267.21 L255.65 267.60 L256.24 267.90 L256.84 268.19 L257.43 268.41 L258.03 268.50 L258.62 268.49 L259.21 268.46 L259.81 268.41 L260.40 268.35 L261.00 268.09 L261.59 267.67 L262.19 267.45 L262.78 267.52 L263.38 267.69 L263.97 267.90 L264.57 268.23 L265.16 268.69 L265.76 269.13 L266.35 269.40 L266.95 269.50 L267.54 269.56 L268.14 269.61 L268.73 269.70 L269.33 269.90 L269.92 270.21 L270.52 270.48 L271.11 270.60 L271.71 270.55 L272.30 270.45 L272.90 270.35 L273.49 270.30 L274.08 270.60 L274.68 271.31 L275.27 272.11 L275.87 272.70 L276.46 273.10 L277.06 273.30 L277.65 272.83 L278.25 271.97 L278.84 271.50 L279.44 271.75 L280.03 272.26 L280.63 272.70 L281.22 273.00 L281.82 273.30 L282.41 273.51 L283.01 273.60 L283.60 273.58 L284.20 273.52 L284.79 273.42 L285.39 273.30 L285.98 272.93 L286.58 272.38 L287.17 272.10 L287.77 272.39 L288.36 272.95 L288.95 273.30 L289.55 273.38 L290.14 273.43 L290.74 273.45 L291.33 272.94 L291.93 271.92 L292.52 271.20 L293.12 270.90 L293.71 270.69 L294.31 270.60 L294.90 270.76 L295.50 271.04 L296.09 271.20 L296.69 271.08 L297.28 270.87 L297.88 270.75 L298.47 271.05 L299.07 271.78 L299.66 272.70 L300.26 274.08 L300.85 275.91 L301.45 277.50 L302.04 278.75 L302.64 279.85 L303.23 280.50 L303.82 280.78 L304.42 280.97 L305.01 281.10 L305.61 281.18 L306.20 281.23 L306.80 281.29 L307.39 281.40 L307.99 282.08 L308.58 283.46 L309.18 285.00 L309.77 286.63 L310.37 288.54 L310.96 290.54 L311.56 292.50 L312.15 294.38 L312.75 296.25 L313.34 298.12 L313.94 300.00 L314.53 301.95 L315.13 303.94 L315.72 305.84 L316.32 307.50 L316.91 309.04 L317.51 310.42 L318.10 311.25 L318.69 311.63 L319.29 311.90 L319.88 312.00 L320.48 311.61 L321.07 310.71 L321.67 309.75 L322.26 308.72 L322.86 307.60 L323.45 306.75 L324.05 306.25 L324.64 305.87 L325.24 305.52 L325.83 305.10 L326.43 304.58 L327.02 304.00 L327.62 303.37 L328.21 302.70 L328.81 301.86 L329.40 300.88 L330.00 299.98 L330.59 299.40 L331.19 299.09 L331.78 298.86 L332.38 298.67 L332.97 298.50 L333.56 298.36 L334.16 298.24 L334.75 298.05 L335.35 297.59 L335.94 296.85 L336.54 296.10 L337.13 295.40 L337.73 294.67 L338.32 293.94 L338.92 293.25 L339.51 292.60 L340.11 291.97 L340.70 291.35 L341.30 290.75 L341.89 290.16 L342.49 289.57 L343.08 288.99 L343.68 288.41 L344.27 287.83 L344.87 287.25 L345.46 286.67 L346.06 286.08 L346.65 285.50 L347.25 284.93 L347.84 284.35 L348.43 283.78 L349.03 283.22 L349.62 282.66 L350.22 282.10 L350.81 281.55 L351.41 281.01 L352.00 280.46 L352.60 279.93 L353.19 279.40 L353.79 278.87 L354.38 278.35 L354.98 277.83 L355.57 277.31 L356.17 276.80 L356.76 276.30 L357.36 275.80 L357.95 275.32 L358.55 274.84 L359.14 274.36 L359.74 273.89 L360.33 273.41 L360.93 272.94 L361.52 272.47 L362.12 271.99 L362.71 271.50 L363.30 271.03 L363.90 270.58 L364.49 270.13 L365.09 269.65 L365.68 269.12 L366.28 268.50 L366.87 267.72 L367.47 266.77 L368.06 265.75 L368.66 264.75 L369.25 263.77 L369.85 262.77 L370.44 261.75 L371.04 260.74 L371.63 259.73 L372.23 258.75 L372.82 257.78 L373.42 256.80 L374.01 255.84 L374.61 254.88 L375.20 253.93 L375.80 253.01 L376.39 252.11 L376.99 251.25 L377.58 250.42 L378.17 249.61 L378.77 248.83 L379.36 248.07 L379.96 247.33 L380.55 246.60 L381.15 245.89 L381.74 245.21 L382.34 244.54 L382.93 243.88 L383.53 243.22 L384.12 242.55" fill="none" stroke="#f51d1d" stroke-width="1.45" stroke-linejoin="round"/>
<rect x="236.75" y="237.40" width="154.25" height="114.90" fill="none" stroke="#4d4d4d" stroke-width="0.75"/>
<rect x="240.20" y="240.50" width="46.70" height="20.60" rx="1.2" fill="#fff" fill-opacity="0.8" stroke="#ccc" stroke-width="0.5"/>
<path d="M242.20 246.55 H256.40" stroke="#f51d1d" stroke-width="1.7" fill="none"/>
<text class="t" x="261.00" y="248.85">Course</text>
<path d="M242.20 255.05 H256.40" stroke="#000" stroke-width="1.1" stroke-dasharray="1.05 1.05" fill="none"/>
<text class="t" x="261.00" y="257.35">Rudder</text>
<rect x="29.50" y="401.00" width="154.50" height="114.70" fill="#fff"/>
<path d="M36.50 401.00 V515.70 M68.50 401.00 V515.70 M100.50 401.00 V515.70 M132.50 401.00 V515.70 M164.50 401.00 V515.70 M29.50 511.01 H184.00 M29.50 497.92 H184.00 M29.50 484.82 H184.00 M29.50 471.73 H184.00 M29.50 458.63 H184.00 M29.50 445.54 H184.00 M29.50 432.44 H184.00 M29.50 419.35 H184.00 M29.50 406.25 H184.00" stroke="#b0b0b0" stroke-width="0.5" fill="none"/>
<path d="M36.50 515.70 v2 M68.50 515.70 v2 M100.50 515.70 v2 M132.50 515.70 v2 M164.50 515.70 v2 M29.50 511.01 h-2 M29.50 497.92 h-2 M29.50 484.82 h-2 M29.50 471.73 h-2 M29.50 458.63 h-2 M29.50 445.54 h-2 M29.50 432.44 h-2 M29.50 419.35 h-2 M29.50 406.25 h-2" stroke="#222" stroke-width="0.5" fill="none"/>
<text class="t" x="36.50" y="524.30" text-anchor="middle">0</text>
<text class="t" x="68.50" y="524.30" text-anchor="middle">50</text>
<text class="t" x="100.50" y="524.30" text-anchor="middle">100</text>
<text class="t" x="132.50" y="524.30" text-anchor="middle">150</text>
<text class="t" x="164.50" y="524.30" text-anchor="middle">200</text>
<text class="t" x="26.90" y="513.31" text-anchor="end">100</text>
<text class="t" x="26.90" y="500.22" text-anchor="end">125</text>
<text class="t" x="26.90" y="487.12" text-anchor="end">150</text>
<text class="t" x="26.90" y="474.03" text-anchor="end">175</text>
<text class="t" x="26.90" y="460.93" text-anchor="end">200</text>
<text class="t" x="26.90" y="447.84" text-anchor="end">225</text>
<text class="t" x="26.90" y="434.74" text-anchor="end">250</text>
<text class="t" x="26.90" y="421.65" text-anchor="end">275</text>
<text class="t" x="26.90" y="408.55" text-anchor="end">300</text>
<text class="t" x="106.75" y="532.00" text-anchor="middle">Time(s)</text>
<text class="t l" transform="translate(11.40 458.35) rotate(-90)" text-anchor="middle">Diantance(m)</text>
<text class="cap" x="104.5" y="546.1" text-anchor="middle">(<tspan font-weight="bold">e</tspan>)</text>
<clipPath id="ce"><rect x="29.50" y="401.00" width="154.50" height="114.70"/></clipPath>
<g clip-path="url(#ce)">
<path d="M36.50 406.25 L36.82 406.25 L37.14 406.25 L37.46 406.25 L37.78 406.25 L38.10 406.25 L38.42 406.25 L38.74 406.25 L39.06 406.25 L39.38 406.25 L39.70 406.25 L40.02 406.25 L40.34 406.25 L40.66 406.25 L40.98 406.25 L41.30 406.25 L41.62 406.25 L41.94 406.25 L42.26 406.25 L42.58 406.25 L42.90 406.25 L43.22 406.25 L43.54 406.25 L43.86 406.25 L44.18 406.25 L44.50 406.25 L44.82 406.25 L45.14 406.25 L45.46 406.25 L45.78 406.25 L46.10 406.25 L46.42 406.25 L46.74 406.25 L47.06 406.25 L47.38 406.25 L47.70 406.25 L48.02 406.25 L48.34 406.25 L48.66 406.25 L48.98 406.25 L49.30 406.25 L49.62 406.25 L49.94 406.25 L50.26 406.25 L50.58 406.25 L50.90 406.25 L51.22 406.25 L51.54 406.25 L51.86 406.25 L52.18 406.25 L52.50 406.25 L52.82 406.25 L53.14 406.25 L53.46 406.25 L53.78 406.25 L54.10 406.25 L54.42 406.25 L54.74 406.25 L55.06 406.25 L55.38 406.25 L55.70 406.25 L56.02 406.25 L56.34 406.25 L56.66 406.25 L56.98 406.25 L57.30 406.25 L57.62 406.25 L57.94 406.25 L58.26 406.25 L58.58 406.25 L58.90 406.25 L59.22 406.25 L59.54 406.25 L59.86 406.25 L60.18 406.25 L60.50 406.25 L60.82 406.25 L61.14 406.25 L61.46 406.25 L61.78 406.25 L62.10 406.25 L62.42 406.25 L62.74 406.25 L63.06 406.25 L63.38 406.25 L63.70 406.25 L64.02 406.25 L64.34 406.25 L64.66 406.25 L64.98 406.25 L65.30 406.25 L65.62 406.25 L65.94 406.25 L66.26 406.25 L66.58 406.25 L66.90 406.25 L67.22 406.25 L67.54 406.25 L67.86 406.25 L68.18 406.25 L68.50 406.25 L68.82 406.25 L69.14 406.25 L69.46 406.25 L69.78 406.25 L70.10 406.25 L70.42 406.25 L70.74 406.25 L71.06 406.25 L71.38 406.25 L71.70 406.25 L72.02 406.25 L72.34 406.25 L72.66 406.25 L72.98 406.25 L73.30 406.25 L73.62 406.25 L73.94 406.25 L74.26 406.25 L74.58 406.25 L74.90 406.25 L75.22 406.25 L75.54 406.25 L75.86 406.25 L76.18 406.25 L76.50 406.25 L76.82 406.25 L77.14 406.25 L77.46 407.72 L77.78 409.18 L78.10 410.64 L78.42 412.10 L78.74 413.55 L79.06 414.99 L79.38 416.44 L79.70 417.88 L80.02 419.31 L80.34 420.74 L80.66 422.17 L80.98 423.59 L81.30 425.00 L81.62 426.41 L81.94 427.82 L82.26 429.22 L82.58 430.61 L82.90 432.00 L83.22 433.38 L83.54 434.75 L83.86 436.12 L84.18 437.48 L84.50 438.84 L84.82 440.19 L85.14 441.53 L85.46 442.86 L85.78 444.18 L86.10 445.50 L86.42 446.81 L86.74 448.11 L87.06 449.40 L87.38 450.68 L87.70 451.95 L88.02 453.22 L88.34 454.47 L88.66 455.71 L88.98 456.94 L89.30 458.16 L89.62 459.36 L89.94 460.56 L90.26 461.74 L90.58 462.91 L90.90 464.06 L91.22 465.20 L91.54 466.33 L91.86 467.44 L92.18 468.54 L92.50 469.62 L92.82 470.68 L93.14 471.73 L93.46 472.75 L93.78 473.76 L94.10 474.75 L94.42 475.72 L94.74 476.67 L95.06 477.60 L95.38 478.51 L95.70 479.39 L96.02 480.25 L96.34 481.09 L96.66 481.90 L96.98 482.69 L97.30 483.45 L97.62 484.18 L97.94 484.89 L98.26 485.57 L98.58 486.22 L98.90 486.83 L99.22 487.42 L99.54 487.98 L99.86 488.50 L100.18 488.99 L100.50 489.45 L100.82 489.87 L101.14 490.26 L101.46 490.62 L101.78 490.93 L102.10 491.22 L102.42 491.46 L102.74 491.67 L103.06 491.84 L103.38 491.97 L103.70 492.07 L104.02 492.12 L104.34 492.14 L104.66 492.12 L104.98 492.07 L105.30 491.98 L105.62 491.85 L105.94 491.68 L106.26 491.48 L106.58 491.24 L106.90 490.96 L107.22 490.65 L107.54 490.31 L107.86 489.92 L108.18 489.51 L108.50 489.06 L108.82 488.58 L109.14 488.07 L109.46 487.53 L109.78 486.95 L110.10 486.35 L110.42 485.71 L110.74 485.05 L111.06 484.36 L111.38 483.64 L111.70 482.90 L112.02 482.13 L112.34 481.33 L112.66 480.51 L112.98 479.67 L113.30 478.80 L113.62 477.91 L113.94 477.00 L114.26 476.07 L114.58 475.12 L114.90 474.15 L115.22 473.16 L115.54 472.15 L115.86 471.12 L116.18 470.08 L116.50 469.02 L116.82 467.94 L117.14 466.85 L117.46 465.74 L117.78 464.62 L118.10 463.49 L118.42 462.34 L118.74 461.18 L119.06 460.00 L119.38 458.82 L119.70 457.62 L120.02 456.41 L120.34 455.19 L120.66 453.96 L120.98 452.72 L121.30 451.47 L121.62 450.21 L121.94 448.94 L122.26 447.66 L122.58 446.37 L122.90 445.07 L123.22 443.77 L123.54 442.46 L123.86 441.14 L124.18 439.81 L124.50 438.48 L124.82 437.14 L125.14 435.79 L125.46 434.43 L125.78 433.07 L126.10 431.71 L126.42 430.33 L126.74 428.96 L127.06 427.57 L127.38 426.18 L127.70 424.79 L128.02 423.39 L128.34 421.98 L128.66 420.57 L128.98 419.16 L129.30 417.74 L129.62 416.32 L129.94 414.89 L130.26 413.46 L130.58 412.03 L130.90 410.59 L131.22 409.15 L131.54 407.70 L131.86 406.25 L132.18 406.25 L132.50 406.25 L132.82 406.25 L133.14 406.25 L133.46 406.25 L133.78 406.25 L134.10 406.25 L134.42 406.25 L134.74 406.25 L135.06 406.25 L135.38 406.25 L135.70 406.25 L136.02 406.25 L136.34 406.25 L136.66 406.25 L136.98 406.25 L137.30 406.25 L137.62 406.25 L137.94 406.25 L138.26 406.25 L138.58 406.25 L138.90 406.25 L139.22 406.25 L139.54 406.25 L139.86 406.25 L140.18 406.25 L140.50 406.25 L140.82 406.25 L141.14 406.25 L141.46 406.25 L141.78 406.25 L142.10 406.25 L142.42 406.25 L142.74 406.25 L143.06 406.25 L143.38 406.25 L143.70 406.25 L144.02 406.25 L144.34 406.25 L144.66 406.25 L144.98 406.25 L145.30 406.25 L145.62 406.25 L145.94 406.25 L146.26 406.25 L146.58 406.25 L146.90 406.25 L147.22 406.25 L147.54 406.25 L147.86 406.25 L148.18 406.25 L148.50 406.25 L148.82 406.25 L149.14 406.25 L149.46 406.25 L149.78 406.25 L150.10 406.25 L150.42 406.25 L150.74 406.25 L151.06 406.25 L151.38 406.25 L151.70 406.25 L152.02 406.25 L152.34 406.25 L152.66 406.25 L152.98 406.25 L153.30 406.25 L153.62 406.25 L153.94 406.25 L154.26 406.25 L154.58 406.25 L154.90 406.25 L155.22 406.25 L155.54 406.25 L155.86 406.25 L156.18 406.25 L156.50 406.25 L156.82 406.25 L157.14 406.25 L157.46 406.25 L157.78 406.25 L158.10 406.25 L158.42 406.25 L158.74 406.25 L159.06 406.25 L159.38 406.25 L159.70 406.25 L160.02 406.25 L160.34 406.25 L160.66 406.25 L160.98 406.25 L161.30 406.25 L161.62 406.25 L161.94 406.25 L162.26 406.25 L162.58 406.25 L162.90 406.25 L163.22 406.25 L163.54 406.25 L163.86 406.25 L164.18 406.25 L164.50 406.25 L164.82 406.25 L165.14 406.25 L165.46 406.25 L165.78 406.25 L166.10 406.25 L166.42 406.25 L166.74 406.25 L167.06 406.25 L167.38 406.25 L167.70 406.25 L168.02 406.25 L168.34 406.25 L168.66 406.25 L168.98 406.25 L169.30 406.25 L169.62 406.25 L169.94 406.25 L170.26 406.25 L170.58 406.25 L170.90 406.25 L171.22 406.25 L171.54 406.25 L171.86 406.25 L172.18 406.25 L172.50 406.25 L172.82 406.25 L173.14 406.25 L173.46 406.25 L173.78 406.25 L174.10 406.25 L174.42 406.25 L174.74 406.25 L175.06 406.25 L175.38 406.25 L175.70 406.25 L176.02 406.25 L176.34 406.25 L176.66 406.25" fill="none" stroke="#1f77b4" stroke-width="1.1" stroke-linejoin="round"/>
<path d="M36.50 406.25 L36.82 406.25 L37.14 406.25 L37.46 406.25 L37.78 406.25 L38.10 406.25 L38.42 406.25 L38.74 406.25 L39.06 406.25 L39.38 406.25 L39.70 406.25 L40.02 406.25 L40.34 406.25 L40.66 406.25 L40.98 406.25 L41.30 406.25 L41.62 406.25 L41.94 406.25 L42.26 406.25 L42.58 406.25 L42.90 406.25 L43.22 406.25 L43.54 406.25 L43.86 406.25 L44.18 406.25 L44.50 406.25 L44.82 406.25 L45.14 406.25 L45.46 406.25 L45.78 406.25 L46.10 406.25 L46.42 406.25 L46.74 406.25 L47.06 406.25 L47.38 406.25 L47.70 406.25 L48.02 406.25 L48.34 406.25 L48.66 406.25 L48.98 406.25 L49.30 406.25 L49.62 406.25 L49.94 406.25 L50.26 406.25 L50.58 406.25 L50.90 406.25 L51.22 406.25 L51.54 406.25 L51.86 406.25 L52.18 406.25 L52.50 406.25 L52.82 406.25 L53.14 406.25 L53.46 406.25 L53.78 406.25 L54.10 406.25 L54.42 406.25 L54.74 406.25 L55.06 406.25 L55.38 406.25 L55.70 406.25 L56.02 406.25 L56.34 406.25 L56.66 406.25 L56.98 406.25 L57.30 406.25 L57.62 406.25 L57.94 406.25 L58.26 406.25 L58.58 406.25 L58.90 406.25 L59.22 406.25 L59.54 406.25 L59.86 406.25 L60.18 406.25 L60.50 406.25 L60.82 406.25 L61.14 406.25 L61.46 406.25 L61.78 406.25 L62.10 406.25 L62.42 406.25 L62.74 406.25 L63.06 406.25 L63.38 406.25 L63.70 406.25 L64.02 406.25 L64.34 406.25 L64.66 406.25 L64.98 406.25 L65.30 406.25 L65.62 406.25 L65.94 406.25 L66.26 406.25 L66.58 406.25 L66.90 406.25 L67.22 406.25 L67.54 406.25 L67.86 406.25 L68.18 406.25 L68.50 406.25 L68.82 406.25 L69.14 406.25 L69.46 406.25 L69.78 406.25 L70.10 406.25 L70.42 406.25 L70.74 406.25 L71.06 406.25 L71.38 406.25 L71.70 406.25 L72.02 406.25 L72.34 406.25 L72.66 406.25 L72.98 406.25 L73.30 406.25 L73.62 406.25 L73.94 406.25 L74.26 406.25 L74.58 406.25 L74.90 406.25 L75.22 406.25 L75.54 406.25 L75.86 406.25 L76.18 406.25 L76.50 406.25 L76.82 406.25 L77.14 406.25 L77.46 406.25 L77.78 406.25 L78.10 406.25 L78.42 406.25 L78.74 406.25 L79.06 406.25 L79.38 406.25 L79.70 406.25 L80.02 406.25 L80.34 406.25 L80.66 406.25 L80.98 406.25 L81.30 406.25 L81.62 406.25 L81.94 406.25 L82.26 406.25 L82.58 406.25 L82.90 406.25 L83.22 407.40 L83.54 408.55 L83.86 409.70 L84.18 410.85 L84.50 412.00 L84.82 413.15 L85.14 414.29 L85.46 415.44 L85.78 416.58 L86.10 417.72 L86.42 418.86 L86.74 420.00 L87.06 421.14 L87.38 422.27 L87.70 423.41 L88.02 424.54 L88.34 425.67 L88.66 426.80 L88.98 427.93 L89.30 429.06 L89.62 430.18 L89.94 431.30 L90.26 432.42 L90.58 433.54 L90.90 434.66 L91.22 435.78 L91.54 436.89 L91.86 438.00 L92.18 439.11 L92.50 440.22 L92.82 441.32 L93.14 442.43 L93.46 443.53 L93.78 444.62 L94.10 445.72 L94.42 446.81 L94.74 447.90 L95.06 448.99 L95.38 450.08 L95.70 451.16 L96.02 452.24 L96.34 453.31 L96.66 454.39 L96.98 455.46 L97.30 456.52 L97.62 457.58 L97.94 458.64 L98.26 459.70 L98.58 460.75 L98.90 461.80 L99.22 462.84 L99.54 463.88 L99.86 464.92 L100.18 465.95 L100.50 466.98 L100.82 468.00 L101.14 469.02 L101.46 470.03 L101.78 471.04 L102.10 472.04 L102.42 473.04 L102.74 474.03 L103.06 475.02 L103.38 476.00 L103.70 476.97 L104.02 477.94 L104.34 478.90 L104.66 479.85 L104.98 480.80 L105.30 481.74 L105.62 482.67 L105.94 483.59 L106.26 484.51 L106.58 485.41 L106.90 486.31 L107.22 487.20 L107.54 488.08 L107.86 488.95 L108.18 489.81 L108.50 490.66 L108.82 491.50 L109.14 492.32 L109.46 493.14 L109.78 493.94 L110.10 494.73 L110.42 495.51 L110.74 496.28 L111.06 497.03 L111.38 497.77 L111.70 498.49 L112.02 499.20 L112.34 499.89 L112.66 500.56 L112.98 501.22 L113.30 501.86 L113.62 502.49 L113.94 503.09 L114.26 503.68 L114.58 504.25 L114.90 504.79 L115.22 505.32 L115.54 505.82 L115.86 506.31 L116.18 506.77 L116.50 507.21 L116.82 507.62 L117.14 508.01 L117.46 508.38 L117.78 508.72 L118.10 509.03 L118.42 509.32 L118.74 509.59 L119.06 509.83 L119.38 510.04 L119.70 510.22 L120.02 510.37 L120.34 510.50 L120.66 510.60 L120.98 510.67 L121.30 510.71 L121.62 510.73 L121.94 510.71 L122.26 510.66 L122.58 510.57 L122.90 510.45 L123.22 510.30 L123.54 510.11 L123.86 509.89 L124.18 509.64 L124.50 509.35 L124.82 509.03 L125.14 508.69 L125.46 508.31 L125.78 507.90 L126.10 507.46 L126.42 506.99 L126.74 506.49 L127.06 505.97 L127.38 505.42 L127.70 504.85 L128.02 504.25 L128.34 503.62 L128.66 502.97 L128.98 502.30 L129.30 501.61 L129.62 500.90 L129.94 500.16 L130.26 499.41 L130.58 498.63 L130.90 497.84 L131.22 497.03 L131.54 496.20 L131.86 495.36 L132.18 494.50 L132.50 493.62 L132.82 492.73 L133.14 491.83 L133.46 490.91 L133.78 489.98 L134.10 489.03 L134.42 488.08 L134.74 487.11 L135.06 486.13 L135.38 485.14 L135.70 484.14 L136.02 483.13 L136.34 482.11 L136.66 481.08 L136.98 480.04 L137.30 478.99 L137.62 477.94 L137.94 476.87 L138.26 475.80 L138.58 474.72 L138.90 473.64 L139.22 472.54 L139.54 471.44 L139.86 470.34 L140.18 469.22 L140.50 468.10 L140.82 466.98 L141.14 465.85 L141.46 464.71 L141.78 463.57 L142.10 462.43 L142.42 461.28 L142.74 460.12 L143.06 458.96 L143.38 457.80 L143.70 456.63 L144.02 455.46 L144.34 454.28 L144.66 453.10 L144.98 451.91 L145.30 450.73 L145.62 449.53 L145.94 448.34 L146.26 447.14 L146.58 445.94 L146.90 444.73 L147.22 443.53 L147.54 442.32 L147.86 441.10 L148.18 439.89 L148.50 438.67 L148.82 437.45 L149.14 436.22 L149.46 435.00 L149.78 433.77 L150.10 432.54 L150.42 431.30 L150.74 430.07 L151.06 428.83 L151.38 427.59 L151.70 426.35 L152.02 425.11 L152.34 423.86 L152.66 422.61 L152.98 421.36 L153.30 420.11 L153.62 418.86 L153.94 417.61 L154.26 416.35 L154.58 415.09 L154.90 413.83 L155.22 412.57 L155.54 411.31 L155.86 410.05 L156.18 408.78 L156.50 407.52 L156.82 406.25 L157.14 406.25 L157.46 406.25 L157.78 406.25 L158.10 406.25 L158.42 406.25 L158.74 406.25 L159.06 406.25 L159.38 406.25 L159.70 406.25 L160.02 406.25 L160.34 406.25 L160.66 406.25 L160.98 406.25 L161.30 406.25 L161.62 406.25 L161.94 406.25 L162.26 406.25 L162.58 406.25 L162.90 406.25 L163.22 406.25 L163.54 406.25 L163.86 406.25 L164.18 406.25 L164.50 406.25 L164.82 406.25 L165.14 406.25 L165.46 406.25 L165.78 406.25 L166.10 406.25 L166.42 406.25 L166.74 406.25 L167.06 406.25 L167.38 406.25 L167.70 406.25 L168.02 406.25 L168.34 406.25 L168.66 406.25 L168.98 406.25 L169.30 406.25 L169.62 406.25 L169.94 406.25 L170.26 406.25 L170.58 406.25 L170.90 406.25 L171.22 406.25 L171.54 406.25 L171.86 406.25 L172.18 406.25 L172.50 406.25 L172.82 406.25 L173.14 406.25 L173.46 406.25 L173.78 406.25 L174.10 406.25 L174.42 406.25 L174.74 406.25 L175.06 406.25 L175.38 406.25 L175.70 406.25 L176.02 406.25 L176.34 406.25 L176.66 406.25" fill="none" stroke="#ff7f0e" stroke-width="1.2" stroke-dasharray="1 1.15" stroke-linejoin="round"/>
<path d="M36.50 406.25 L36.82 406.25 L37.14 406.25 L37.46 406.25 L37.78 406.25 L38.10 406.25 L38.42 406.25 L38.74 406.25 L39.06 406.25 L39.38 406.25 L39.70 406.25 L40.02 406.25 L40.34 406.25 L40.66 406.25 L40.98 406.25 L41.30 406.25 L41.62 406.25 L41.94 406.25 L42.26 406.25 L42.58 406.25 L42.90 406.25 L43.22 406.25 L43.54 406.25 L43.86 406.25 L44.18 406.25 L44.50 406.25 L44.82 406.25 L45.14 406.25 L45.46 406.25 L45.78 406.25 L46.10 406.25 L46.42 406.25 L46.74 406.25 L47.06 406.25 L47.38 406.25 L47.70 406.25 L48.02 406.25 L48.34 406.25 L48.66 406.25 L48.98 406.25 L49.30 406.25 L49.62 406.25 L49.94 406.25 L50.26 406.25 L50.58 406.25 L50.90 406.25 L51.22 406.25 L51.54 406.25 L51.86 406.25 L52.18 406.25 L52.50 406.25 L52.82 406.25 L53.14 406.29 L53.46 406.77 L53.78 407.69 L54.10 408.98 L54.42 410.56 L54.74 412.34 L55.06 414.24 L55.38 416.18 L55.70 418.07 L56.02 419.84 L56.34 421.39 L56.66 422.79 L56.98 424.17 L57.30 425.53 L57.62 426.87 L57.94 428.21 L58.26 429.56 L58.58 430.91 L58.90 432.28 L59.22 433.67 L59.54 435.10 L59.86 436.56 L60.18 438.07 L60.50 439.65 L60.82 441.29 L61.14 442.97 L61.46 444.68 L61.78 446.41 L62.10 448.15 L62.42 449.87 L62.74 451.58 L63.06 453.24 L63.38 454.86 L63.70 456.42 L64.02 457.90 L64.34 459.32 L64.66 460.73 L64.98 462.11 L65.30 463.46 L65.62 464.78 L65.94 466.05 L66.26 467.27 L66.58 468.45 L66.90 469.57 L67.22 470.63 L67.54 471.66 L67.86 472.65 L68.18 473.61 L68.50 474.55 L68.82 475.45 L69.14 476.32 L69.46 477.17 L69.78 477.98 L70.10 478.77 L70.42 479.53 L70.74 480.27 L71.06 481.00 L71.38 481.71 L71.70 482.40 L72.02 483.07 L72.34 483.71 L72.66 484.32 L72.98 484.89 L73.30 485.43 L73.62 485.92 L73.94 486.39 L74.26 486.85 L74.58 487.30 L74.90 487.73 L75.22 488.14 L75.54 488.52 L75.86 488.86 L76.18 489.17 L76.50 489.43 L76.82 489.64 L77.14 489.82 L77.46 490.00 L77.78 490.17 L78.10 490.33 L78.42 490.48 L78.74 490.60 L79.06 490.71 L79.38 490.79 L79.70 490.84 L80.02 490.85 L80.34 490.84 L80.66 490.80 L80.98 490.73 L81.30 490.64 L81.62 490.51 L81.94 490.36 L82.26 490.19 L82.58 489.98 L82.90 489.76 L83.22 489.50 L83.54 489.22 L83.86 488.91 L84.18 488.58 L84.50 488.22 L84.82 487.84 L85.14 487.44 L85.46 487.01 L85.78 486.55 L86.10 486.08 L86.42 485.58 L86.74 485.06 L87.06 484.52 L87.38 483.95 L87.70 483.37 L88.02 482.76 L88.34 482.14 L88.66 481.50 L88.98 480.83 L89.30 480.15 L89.62 479.45 L89.94 478.73 L90.26 478.00 L90.58 477.25 L90.90 476.48 L91.22 475.70 L91.54 474.90 L91.86 474.08 L92.18 473.25 L92.50 472.41 L92.82 471.56 L93.14 470.69 L93.46 469.80 L93.78 468.91 L94.10 468.00 L94.42 467.08 L94.74 466.14 L95.06 465.20 L95.38 464.25 L95.70 463.28 L96.02 462.31 L96.34 461.32 L96.66 460.32 L96.98 459.32 L97.30 458.31 L97.62 457.28 L97.94 456.25 L98.26 455.21 L98.58 454.16 L98.90 453.10 L99.22 452.04 L99.54 450.97 L99.86 449.89 L100.18 448.80 L100.50 447.71 L100.82 446.61 L101.14 445.50 L101.46 444.39 L101.78 443.27 L102.10 442.14 L102.42 441.01 L102.74 439.88 L103.06 438.73 L103.38 437.59 L103.70 436.43 L104.02 435.27 L104.34 434.11 L104.66 432.94 L104.98 431.77 L105.30 430.59 L105.62 429.41 L105.94 428.23 L106.26 427.04 L106.58 425.84 L106.90 424.64 L107.22 423.44 L107.54 422.23 L107.86 421.02 L108.18 419.81 L108.50 418.59 L108.82 417.37 L109.14 416.15 L109.46 414.92 L109.78 413.69 L110.10 412.46 L110.42 411.22 L110.74 409.98 L111.06 408.74 L111.38 407.50 L111.70 406.25 L112.02 406.25 L112.34 406.25 L112.66 406.25 L112.98 406.25 L113.30 406.25 L113.62 406.25 L113.94 406.25 L114.26 406.25 L114.58 406.25 L114.90 406.25 L115.22 406.25 L115.54 406.25 L115.86 406.25 L116.18 406.25 L116.50 406.25 L116.82 406.25 L117.14 406.25 L117.46 406.25 L117.78 406.25 L118.10 406.25 L118.42 406.25 L118.74 406.25 L119.06 406.25 L119.38 406.25 L119.70 406.25 L120.02 406.25 L120.34 406.25 L120.66 406.25 L120.98 406.25 L121.30 406.25 L121.62 406.25 L121.94 406.25 L122.26 406.25 L122.58 406.25 L122.90 406.25 L123.22 406.25 L123.54 406.25 L123.86 406.25 L124.18 406.25 L124.50 406.25 L124.82 406.25 L125.14 406.25 L125.46 406.25 L125.78 406.25 L126.10 406.25 L126.42 406.25 L126.74 406.25 L127.06 406.25 L127.38 406.25 L127.70 406.25 L128.02 406.25 L128.34 406.25 L128.66 406.25 L128.98 406.25 L129.30 406.25 L129.62 406.25 L129.94 406.25 L130.26 406.25 L130.58 406.25 L130.90 406.25 L131.22 406.25 L131.54 406.25 L131.86 406.25 L132.18 406.25 L132.50 406.25 L132.82 406.25 L133.14 406.25 L133.46 406.25 L133.78 406.25 L134.10 406.25 L134.42 406.25 L134.74 406.25 L135.06 406.25 L135.38 406.25 L135.70 406.25 L136.02 406.25 L136.34 406.25 L136.66 406.25 L136.98 406.25 L137.30 406.25 L137.62 406.25 L137.94 406.25 L138.26 406.25 L138.58 406.25 L138.90 406.25 L139.22 406.25 L139.54 406.25 L139.86 406.25 L140.18 406.25 L140.50 406.25 L140.82 406.25 L141.14 406.25 L141.46 406.25 L141.78 406.25 L142.10 406.25 L142.42 406.25 L142.74 406.25 L143.06 406.25 L143.38 406.25 L143.70 406.25 L144.02 406.25 L144.34 406.25 L144.66 406.25 L144.98 406.25 L145.30 406.25 L145.62 406.25 L145.94 406.25 L146.26 406.25 L146.58 406.25 L146.90 406.25 L147.22 406.25 L147.54 406.25 L147.86 406.25 L148.18 406.25 L148.50 406.25 L148.82 406.25 L149.14 406.25 L149.46 406.25 L149.78 406.25 L150.10 406.25 L150.42 406.25 L150.74 406.25 L151.06 406.25 L151.38 406.25 L151.70 406.25 L152.02 406.25 L152.34 406.25 L152.66 406.25 L152.98 406.25 L153.30 406.25 L153.62 406.25 L153.94 406.25 L154.26 406.25 L154.58 406.25 L154.90 406.25 L155.22 406.25 L155.54 406.25 L155.86 406.25 L156.18 406.25 L156.50 406.25 L156.82 406.25 L157.14 406.25 L157.46 406.25 L157.78 406.25 L158.10 406.25 L158.42 406.25 L158.74 406.25 L159.06 406.25 L159.38 406.25 L159.70 406.25 L160.02 406.25 L160.34 406.25 L160.66 406.25 L160.98 406.25 L161.30 406.25 L161.62 406.25 L161.94 406.25 L162.26 406.25 L162.58 406.25 L162.90 406.25 L163.22 406.25 L163.54 406.25 L163.86 406.25 L164.18 406.25 L164.50 406.25 L164.82 406.25 L165.14 406.25 L165.46 406.25 L165.78 406.25 L166.10 406.25 L166.42 406.25 L166.74 406.25 L167.06 406.25 L167.38 406.25 L167.70 406.25 L168.02 406.25 L168.34 406.25 L168.66 406.25 L168.98 406.25 L169.30 406.25 L169.62 406.25 L169.94 406.25 L170.26 406.25 L170.58 406.25 L170.90 406.25 L171.22 406.25 L171.54 406.25 L171.86 406.25 L172.18 406.25 L172.50 406.25 L172.82 406.25 L173.14 406.25 L173.46 406.25 L173.78 406.25 L174.10 406.25 L174.42 406.25 L174.74 406.25 L175.06 406.25 L175.38 406.25 L175.70 406.25 L176.02 406.25 L176.34 406.25 L176.66 406.25" fill="none" stroke="#2ca02c" stroke-width="1.1" stroke-dasharray="3.4 1.6" stroke-linejoin="round"/>
</g>
<rect x="78.52" y="489.35" width="3" height="3" fill="#000"/>
<rect x="102.84" y="490.64" width="3" height="3" fill="#000"/>
<rect x="120.12" y="509.23" width="3" height="3" fill="#000"/>
<text class="t" x="80.8" y="491.3">[68,138.48]</text>
<text class="t" x="104.6" y="497.6">[106,136.02]</text>
<text class="t" x="122.6" y="510.9">[133,100.54]</text>
<rect x="29.50" y="401.00" width="154.50" height="114.70" fill="none" stroke="#4d4d4d" stroke-width="0.75"/>
<rect x="118.50" y="442.40" width="63.00" height="31.80" rx="1.2" fill="#fff" fill-opacity="0.8" stroke="#ccc" stroke-width="0.5"/>
<path d="M121.00 448.90 H134.00" stroke="#1f77b4" stroke-width="1.1" fill="none"/>
<text class="t" x="139.60" y="451.20">Obs_USV</text>
<path d="M121.00 458.30 H134.00" stroke="#ff7f0e" stroke-width="1.2" stroke-dasharray="1 1.15" fill="none"/>
<text class="t" x="139.60" y="460.60">Static_Obs1</text>
<path d="M121.00 467.70 H134.00" stroke="#2ca02c" stroke-width="1.1" stroke-dasharray="3.4 1.6" fill="none"/>
<text class="t" x="139.60" y="470.00">Static_Obs2</text>
<rect x="236.75" y="401.00" width="154.25" height="114.70" fill="#fff"/>
<path d="M243.75 401.00 V515.70 M267.54 401.00 V515.70 M291.33 401.00 V515.70 M315.13 401.00 V515.70 M338.92 401.00 V515.70 M362.71 401.00 V515.70 M386.50 401.00 V515.70 M236.75 505.82 H391.00 M236.75 485.90 H391.00 M236.75 465.98 H391.00 M236.75 446.05 H391.00 M236.75 426.12 H391.00 M236.75 406.20 H391.00" stroke="#b0b0b0" stroke-width="0.5" fill="none"/>
<path d="M243.75 515.70 v2 M267.54 515.70 v2 M291.33 515.70 v2 M315.13 515.70 v2 M338.92 515.70 v2 M362.71 515.70 v2 M386.50 515.70 v2 M236.75 505.82 h-2 M236.75 485.90 h-2 M236.75 465.98 h-2 M236.75 446.05 h-2 M236.75 426.12 h-2 M236.75 406.20 h-2" stroke="#222" stroke-width="0.5" fill="none"/>
<text class="t" x="243.75" y="524.30" text-anchor="middle">0</text>
<text class="t" x="267.54" y="524.30" text-anchor="middle">20</text>
<text class="t" x="291.33" y="524.30" text-anchor="middle">40</text>
<text class="t" x="315.13" y="524.30" text-anchor="middle">60</text>
<text class="t" x="338.92" y="524.30" text-anchor="middle">80</text>
<text class="t" x="362.71" y="524.30" text-anchor="middle">100</text>
<text class="t" x="386.50" y="524.30" text-anchor="middle">120</text>
<text class="t" x="234.15" y="508.12" text-anchor="end">50</text>
<text class="t" x="234.15" y="488.20" text-anchor="end">100</text>
<text class="t" x="234.15" y="468.28" text-anchor="end">150</text>
<text class="t" x="234.15" y="448.35" text-anchor="end">200</text>
<text class="t" x="234.15" y="428.43" text-anchor="end">250</text>
<text class="t" x="234.15" y="408.50" text-anchor="end">300</text>
<text class="t" x="313.88" y="532.00" text-anchor="middle">Time(s)</text>
<text class="t l" transform="translate(218.80 458.35) rotate(-90)" text-anchor="middle">Diantance(m)</text>
<text class="cap" x="312.0" y="546.1" text-anchor="middle">(<tspan font-weight="bold">f</tspan>)</text>
<path d="M243.75 406.20 L244.05 406.20 L244.34 406.20 L244.64 406.20 L244.94 406.20 L245.24 406.20 L245.53 406.20 L245.83 406.20 L246.13 406.20 L246.43 406.20 L246.72 406.20 L247.02 406.20 L247.32 406.20 L247.62 406.20 L247.91 406.20 L248.21 406.20 L248.51 406.20 L248.81 406.20 L249.10 406.20 L249.40 406.20 L249.70 406.20 L250.00 406.20 L250.29 406.20 L250.59 406.20 L250.89 406.20 L251.19 406.20 L251.48 406.20 L251.78 406.20 L252.08 406.20 L252.37 406.20 L252.67 406.20 L252.97 406.20 L253.27 406.20 L253.56 406.20 L253.86 406.20 L254.16 406.20 L254.46 406.20 L254.75 406.20 L255.05 406.20 L255.35 406.20 L255.65 406.20 L255.94 406.20 L256.24 406.20 L256.54 406.20 L256.84 406.20 L257.13 406.20 L257.43 406.20 L257.73 406.20 L258.03 406.20 L258.32 406.20 L258.62 406.20 L258.92 406.20 L259.21 406.20 L259.51 406.20 L259.81 406.20 L260.11 406.20 L260.40 406.20 L260.70 406.20 L261.00 406.20 L261.30 406.20 L261.59 406.20 L261.89 406.20 L262.19 406.20 L262.49 406.20 L262.78 406.20 L263.08 406.20 L263.38 406.20 L263.68 406.20 L263.97 406.20 L264.27 406.20 L264.57 406.20 L264.87 406.20 L265.16 406.20 L265.46 406.20 L265.76 406.20 L266.06 406.20 L266.35 406.20 L266.65 406.20 L266.95 406.20 L267.24 406.20 L267.54 406.20 L267.84 406.20 L268.14 406.20 L268.43 406.20 L268.73 406.20 L269.03 406.20 L269.33 406.20 L269.62 406.20 L269.92 406.20 L270.22 406.20 L270.52 406.20 L270.81 406.20 L271.11 406.20 L271.41 406.20 L271.71 406.20 L272.00 406.20 L272.30 406.20 L272.60 406.20 L272.90 406.20 L273.19 406.20 L273.49 406.20 L273.79 406.20 L274.08 406.20 L274.38 406.20 L274.68 406.20 L274.98 406.20 L275.27 406.20 L275.57 406.20 L275.87 406.20 L276.17 406.20 L276.46 406.20 L276.76 406.20 L277.06 406.20 L277.36 406.20 L277.65 406.20 L277.95 406.20 L278.25 406.20 L278.55 406.20 L278.84 406.20 L279.14 406.20 L279.44 406.20 L279.74 406.20 L280.03 406.20 L280.33 406.20 L280.63 406.20 L280.93 406.20 L281.22 406.20 L281.52 406.20 L281.82 406.20 L282.11 406.20 L282.41 406.20 L282.71 406.20 L283.01 406.20 L283.30 406.20 L283.60 406.20 L283.90 406.20 L284.20 406.20 L284.49 406.20 L284.79 406.20 L285.09 406.20 L285.39 406.20 L285.68 406.20 L285.98 406.20 L286.28 406.20 L286.58 406.20 L286.87 406.20 L287.17 406.20 L287.47 406.20 L287.77 406.20 L288.06 406.20 L288.36 406.20 L288.66 406.20 L288.95 406.20 L289.25 406.20 L289.55 406.20 L289.85 406.20 L290.14 406.20 L290.44 406.20 L290.74 406.20 L291.04 406.20 L291.33 406.20 L291.63 406.20 L291.93 406.20 L292.23 406.20 L292.52 406.20 L292.82 406.20 L293.12 406.20 L293.42 406.20 L293.71 406.20 L294.01 406.20 L294.31 406.20 L294.61 406.20 L294.90 406.20 L295.20 406.20 L295.50 406.20 L295.80 406.20 L296.09 406.20 L296.39 406.20 L296.69 406.20 L296.98 406.20 L297.28 406.20 L297.58 406.20 L297.88 406.20 L298.17 406.20 L298.47 406.20 L298.77 406.20 L299.07 406.20 L299.36 406.20 L299.66 406.20 L299.96 406.20 L300.26 406.20 L300.55 406.20 L300.85 406.20 L301.15 406.20 L301.45 406.20 L301.74 406.20 L302.04 406.20 L302.34 406.20 L302.64 406.20 L302.93 406.20 L303.23 406.20 L303.53 406.20 L303.82 406.20 L304.12 406.20 L304.42 406.20 L304.72 406.20 L305.01 406.20 L305.31 406.20 L305.61 406.20 L305.91 406.20 L306.20 406.20 L306.50 406.20 L306.80 406.20 L307.10 406.20 L307.39 406.20 L307.69 406.20 L307.99 406.20 L308.29 406.20 L308.58 406.20 L308.88 406.20 L309.18 406.20 L309.48 406.20 L309.77 406.20 L310.07 406.20 L310.37 406.20 L310.67 406.20 L310.96 406.20 L311.26 406.20 L311.56 406.20 L311.85 406.20 L312.15 406.20 L312.45 406.20 L312.75 406.20 L313.04 406.20 L313.34 406.20 L313.64 406.20 L313.94 406.20 L314.23 406.20 L314.53 406.20 L314.83 406.20 L315.13 406.20 L315.42 406.20 L315.72 406.45 L316.02 407.09 L316.32 407.73 L316.61 408.36 L316.91 409.00 L317.21 409.64 L317.51 410.27 L317.80 410.91 L318.10 411.55 L318.40 412.18 L318.69 412.82 L318.99 413.46 L319.29 414.09 L319.59 414.73 L319.88 415.37 L320.18 416.00 L320.48 416.64 L320.78 417.28 L321.07 417.91 L321.37 418.55 L321.67 419.19 L321.97 419.82 L322.26 420.46 L322.56 421.10 L322.86 421.73 L323.16 422.37 L323.45 423.01 L323.75 423.64 L324.05 424.28 L324.35 424.92 L324.64 425.55 L324.94 426.19 L325.24 426.83 L325.53 427.46 L325.83 428.10 L326.13 428.74 L326.43 429.37 L326.72 430.01 L327.02 430.65 L327.32 431.28 L327.62 431.92 L327.91 432.55 L328.21 433.19 L328.51 433.83 L328.81 434.46 L329.10 435.10 L329.40 435.74 L329.70 436.37 L330.00 437.01 L330.29 437.65 L330.59 438.28 L330.89 438.92 L331.19 439.55 L331.48 440.19 L331.78 440.83 L332.08 441.46 L332.38 442.10 L332.67 442.74 L332.97 443.37 L333.27 444.01 L333.56 444.64 L333.86 445.28 L334.16 445.92 L334.46 446.55 L334.75 447.19 L335.05 447.83 L335.35 448.46 L335.65 449.10 L335.94 449.73 L336.24 450.37 L336.54 451.01 L336.84 451.64 L337.13 452.28 L337.43 452.91 L337.73 453.55 L338.03 454.19 L338.32 454.82 L338.62 455.46 L338.92 456.09 L339.22 456.73 L339.51 457.37 L339.81 458.00 L340.11 458.64 L340.40 459.27 L340.70 459.91 L341.00 460.54 L341.30 461.18 L341.59 461.82 L341.89 462.45 L342.19 463.09 L342.49 463.72 L342.78 464.36 L343.08 464.99 L343.38 465.63 L343.68 466.26 L343.97 466.90 L344.27 467.53 L344.57 468.17 L344.87 468.80 L345.16 469.44 L345.46 470.07 L345.76 470.71 L346.06 471.34 L346.35 471.98 L346.65 472.61 L346.95 473.25 L347.25 473.88 L347.54 474.52 L347.84 475.15 L348.14 475.79 L348.43 476.42 L348.73 477.05 L349.03 477.69 L349.33 478.32 L349.62 478.96 L349.92 479.59 L350.22 480.22 L350.52 480.86 L350.81 481.49 L351.11 482.12 L351.41 482.76 L351.71 483.39 L352.00 484.02 L352.30 484.66 L352.60 485.29 L352.90 485.92 L353.19 486.55 L353.49 487.18 L353.79 487.82 L354.09 488.45 L354.38 489.08 L354.68 489.71 L354.98 490.34 L355.27 490.97 L355.57 491.60 L355.87 492.23 L356.17 492.86 L356.46 493.49 L356.76 494.11 L357.06 494.74 L357.36 495.37 L357.65 495.99 L357.95 496.62 L358.25 497.24 L358.55 497.86 L358.84 498.49 L359.14 499.11 L359.44 499.73 L359.74 500.34 L360.03 500.96 L360.33 501.58 L360.63 502.19 L360.93 502.80 L361.22 503.40 L361.52 504.01 L361.82 504.60 L362.12 505.20 L362.41 505.79 L362.71 506.37 L363.01 506.94 L363.30 507.50 L363.60 508.05 L363.90 508.58 L364.20 509.09 L364.49 509.57 L364.79 510.01 L365.09 510.41 L365.39 510.75 L365.68 511.01 L365.98 511.17 L366.28 511.22 L366.58 511.17 L366.87 511.02 L367.17 510.77 L367.47 510.45 L367.77 510.08 L368.06 509.65 L368.36 509.19 L368.66 508.70 L368.96 508.19 L369.25 507.66 L369.55 507.12 L369.85 506.57 L370.14 506.01 L370.44 505.44 L370.74 504.87 L371.04 504.29 L371.33 503.70 L371.63 503.12 L371.93 502.53 L372.23 501.93 L372.52 501.34 L372.82 500.74 L373.12 500.14 L373.42 499.54 L373.71 498.94 L374.01 498.34 L374.31 497.73 L374.61 497.13 L374.90 496.52 L375.20 495.91 L375.50 495.31 L375.80 494.70 L376.09 494.09 L376.39 493.48 L376.69 492.87 L376.99 492.26 L377.28 491.65 L377.58 491.04 L377.88 490.43 L378.17 489.81 L378.47 489.20 L378.77 488.59 L379.07 487.98 L379.36 487.36 L379.66 486.75 L379.96 486.14 L380.26 485.52 L380.55 484.91 L380.85 484.30 L381.15 483.68 L381.45 483.07 L381.74 482.45 L382.04 481.84 L382.34 481.22 L382.64 480.61 L382.93 479.99 L383.23 479.38 L383.53 478.76 L383.83 478.15 L384.12 477.53" fill="none" stroke="#1f77b4" stroke-width="1.1" stroke-linejoin="round"/>
<path d="M243.75 406.20 L244.05 406.20 L244.34 406.20 L244.64 406.20 L244.94 406.20 L245.24 406.20 L245.53 406.20 L245.83 406.20 L246.13 406.20 L246.43 406.20 L246.72 406.20 L247.02 406.20 L247.32 406.20 L247.62 406.20 L247.91 406.20 L248.21 406.20 L248.51 406.20 L248.81 406.20 L249.10 406.20 L249.40 406.20 L249.70 406.20 L250.00 406.20 L250.29 406.20 L250.59 406.20 L250.89 406.20 L251.19 406.20 L251.48 406.20 L251.78 406.20 L252.08 406.20 L252.37 406.20 L252.67 406.20 L252.97 406.20 L253.27 406.20 L253.56 406.20 L253.86 406.20 L254.16 406.20 L254.46 406.20 L254.75 406.20 L255.05 406.20 L255.35 406.20 L255.65 406.20 L255.94 406.20 L256.24 406.20 L256.54 406.20 L256.84 406.20 L257.13 406.20 L257.43 406.20 L257.73 406.20 L258.03 406.20 L258.32 406.20 L258.62 406.20 L258.92 406.20 L259.21 406.20 L259.51 406.20 L259.81 406.20 L260.11 406.20 L260.40 406.20 L260.70 406.20 L261.00 406.20 L261.30 406.20 L261.59 406.20 L261.89 406.20 L262.19 406.20 L262.49 406.20 L262.78 406.20 L263.08 406.20 L263.38 406.20 L263.68 406.20 L263.97 406.20 L264.27 406.20 L264.57 406.20 L264.87 406.20 L265.16 406.20 L265.46 406.20 L265.76 406.20 L266.06 406.20 L266.35 406.20 L266.65 406.20 L266.95 406.20 L267.24 406.20 L267.54 406.20 L267.84 406.20 L268.14 406.20 L268.43 406.20 L268.73 406.20 L269.03 406.20 L269.33 406.20 L269.62 406.20 L269.92 406.20 L270.22 406.20 L270.52 406.20 L270.81 406.20 L271.11 406.20 L271.41 406.20 L271.71 406.20 L272.00 406.20 L272.30 406.20 L272.60 406.20 L272.90 406.20 L273.19 406.20 L273.49 406.20 L273.79 406.20 L274.08 406.20 L274.38 406.20 L274.68 406.20 L274.98 406.20 L275.27 406.20 L275.57 406.20 L275.87 406.20 L276.17 406.20 L276.46 406.20 L276.76 406.20 L277.06 406.20 L277.36 406.20 L277.65 406.20 L277.95 406.20 L278.25 406.20 L278.55 406.20 L278.84 406.20 L279.14 406.20 L279.44 406.20 L279.74 406.20 L280.03 406.20 L280.33 406.20 L280.63 406.20 L280.93 406.20 L281.22 406.20 L281.52 406.20 L281.82 406.20 L282.11 406.20 L282.41 406.20 L282.71 406.20 L283.01 406.20 L283.30 406.20 L283.60 406.20 L283.90 406.20 L284.20 406.20 L284.49 406.20 L284.79 406.20 L285.09 406.20 L285.39 406.20 L285.68 406.20 L285.98 406.20 L286.28 406.20 L286.58 406.20 L286.87 406.20 L287.17 406.20 L287.47 406.20 L287.77 406.20 L288.06 406.20 L288.36 406.20 L288.66 406.20 L288.95 406.20 L289.25 406.20 L289.55 406.20 L289.85 406.20 L290.14 406.20 L290.44 406.20 L290.74 406.20 L291.04 406.20 L291.33 406.20 L291.63 406.20 L291.93 406.20 L292.23 406.20 L292.52 406.20 L292.82 406.20 L293.12 406.20 L293.42 406.20 L293.71 406.20 L294.01 406.20 L294.31 406.20 L294.61 406.20 L294.90 406.20 L295.20 406.20 L295.50 406.20 L295.80 406.20 L296.09 406.20 L296.39 406.20 L296.69 406.20 L296.98 406.20 L297.28 406.20 L297.58 406.20 L297.88 406.20 L298.17 406.20 L298.47 406.20 L298.77 406.20 L299.07 406.20 L299.36 406.20 L299.66 406.20 L299.96 406.20 L300.26 406.20 L300.55 406.20 L300.85 406.20 L301.15 406.20 L301.45 406.20 L301.74 406.20 L302.04 406.20 L302.34 406.20 L302.64 406.20 L302.93 406.20 L303.23 406.20 L303.53 406.20 L303.82 406.20 L304.12 406.20 L304.42 406.20 L304.72 406.20 L305.01 406.20 L305.31 406.20 L305.61 406.20 L305.91 406.20 L306.20 406.20 L306.50 406.20 L306.80 406.20 L307.10 406.20 L307.39 406.20 L307.69 406.20 L307.99 406.20 L308.29 406.20 L308.58 406.20 L308.88 406.20 L309.18 406.20 L309.48 406.20 L309.77 406.20 L310.07 406.20 L310.37 406.20 L310.67 406.20 L310.96 406.20 L311.26 406.20 L311.56 406.20 L311.85 406.20 L312.15 406.20 L312.45 406.20 L312.75 406.20 L313.04 406.20 L313.34 406.20 L313.64 406.20 L313.94 406.20 L314.23 406.20 L314.53 406.20 L314.83 406.20 L315.13 406.20 L315.42 406.20 L315.72 406.20 L316.02 406.20 L316.32 406.20 L316.61 406.20 L316.91 406.20 L317.21 406.20 L317.51 406.20 L317.80 406.20 L318.10 406.20 L318.40 406.20 L318.69 406.20 L318.99 406.20 L319.29 406.20 L319.59 406.20 L319.88 406.20 L320.18 406.20 L320.48 406.20 L320.78 406.20 L321.07 406.20 L321.37 406.20 L321.67 406.20 L321.97 406.20 L322.26 406.20 L322.56 406.20 L322.86 406.20 L323.16 406.20 L323.45 406.20 L323.75 406.20 L324.05 406.20 L324.35 406.20 L324.64 406.20 L324.94 406.20 L325.24 406.20 L325.53 406.20 L325.83 406.20 L326.13 406.20 L326.43 406.20 L326.72 406.20 L327.02 406.20 L327.32 406.20 L327.62 406.20 L327.91 406.20 L328.21 406.20 L328.51 406.20 L328.81 406.20 L329.10 406.20 L329.40 406.20 L329.70 406.71 L330.00 407.21 L330.29 407.72 L330.59 408.23 L330.89 408.74 L331.19 409.24 L331.48 409.75 L331.78 410.26 L332.08 410.77 L332.38 411.27 L332.67 411.78 L332.97 412.29 L333.27 412.79 L333.56 413.30 L333.86 413.81 L334.16 414.32 L334.46 414.82 L334.75 415.33 L335.05 415.84 L335.35 416.34 L335.65 416.85 L335.94 417.36 L336.24 417.87 L336.54 418.37 L336.84 418.88 L337.13 419.39 L337.43 419.90 L337.73 420.40 L338.03 420.91 L338.32 421.42 L338.62 421.92 L338.92 422.43 L339.22 422.94 L339.51 423.45 L339.81 423.95 L340.11 424.46 L340.40 424.97 L340.70 425.48 L341.00 425.98 L341.30 426.49 L341.59 427.00 L341.89 427.50 L342.19 428.01 L342.49 428.52 L342.78 429.03 L343.08 429.53 L343.38 430.04 L343.68 430.55 L343.97 431.05 L344.27 431.56 L344.57 432.07 L344.87 432.58 L345.16 433.08 L345.46 433.59 L345.76 434.10 L346.06 434.61 L346.35 435.11 L346.65 435.62 L346.95 436.13 L347.25 436.63 L347.54 437.14 L347.84 437.65 L348.14 438.16 L348.43 438.66 L348.73 439.17 L349.03 439.68 L349.33 440.19 L349.62 440.69 L349.92 441.20 L350.22 441.71 L350.52 442.21 L350.81 442.72 L351.11 443.23 L351.41 443.74 L351.71 444.24 L352.00 444.75 L352.30 445.26 L352.60 445.76 L352.90 446.27 L353.19 446.78 L353.49 447.29 L353.79 447.79 L354.09 448.30 L354.38 448.81 L354.68 449.32 L354.98 449.82 L355.27 450.33 L355.57 450.84 L355.87 451.34 L356.17 451.85 L356.46 452.36 L356.76 452.87 L357.06 453.37 L357.36 453.88 L357.65 454.39 L357.95 454.90 L358.25 455.40 L358.55 455.91 L358.84 456.42 L359.14 456.92 L359.44 457.43 L359.74 457.94 L360.03 458.45 L360.33 458.95 L360.63 459.46 L360.93 459.97 L361.22 460.47 L361.52 460.98 L361.82 461.49 L362.12 462.00 L362.41 462.50 L362.71 463.01 L363.01 463.52 L363.30 464.03 L363.60 464.53 L363.90 465.04 L364.20 465.55 L364.49 466.05 L364.79 466.56 L365.09 467.07 L365.39 467.58 L365.68 468.08 L365.98 468.59 L366.28 469.10 L366.58 469.61 L366.87 470.11 L367.17 470.62 L367.47 471.13 L367.77 471.63 L368.06 472.14 L368.36 472.65 L368.66 473.16 L368.96 473.66 L369.25 474.17 L369.55 474.68 L369.85 475.19 L370.14 475.69 L370.44 476.20 L370.74 476.71 L371.04 477.21 L371.33 477.72 L371.63 478.23 L371.93 478.74 L372.23 479.24 L372.52 479.75 L372.82 480.26 L373.12 480.76 L373.42 481.27 L373.71 481.78 L374.01 482.29 L374.31 482.79 L374.61 483.30 L374.90 483.81 L375.20 484.32 L375.50 484.82 L375.80 485.33 L376.09 485.84 L376.39 486.34 L376.69 486.85 L376.99 487.36 L377.28 487.87 L377.58 488.37 L377.88 488.88 L378.17 489.39 L378.47 489.90 L378.77 490.40 L379.07 490.91 L379.36 491.42 L379.66 491.92 L379.96 492.43 L380.26 492.94 L380.55 493.45 L380.85 493.95 L381.15 494.46 L381.45 494.97 L381.74 495.47 L382.04 495.98 L382.34 496.49 L382.64 497.00 L382.93 497.50 L383.23 498.01 L383.53 498.52 L383.83 499.03 L384.12 499.53" fill="none" stroke="#ff7f0e" stroke-width="1.2" stroke-dasharray="1 1.15" stroke-linejoin="round"/>
<path d="M243.75 406.20 L244.05 406.20 L244.34 406.20 L244.64 406.20 L244.94 406.20 L245.24 406.20 L245.53 406.20 L245.83 406.20 L246.13 406.20 L246.43 406.20 L246.72 406.20 L247.02 406.20 L247.32 406.20 L247.62 406.20 L247.91 406.20 L248.21 406.20 L248.51 406.20 L248.81 406.20 L249.10 406.20 L249.40 406.20 L249.70 406.20 L250.00 406.20 L250.29 406.20 L250.59 406.20 L250.89 406.20 L251.19 406.20 L251.48 406.20 L251.78 406.20 L252.08 406.20 L252.37 406.20 L252.67 406.20 L252.97 406.20 L253.27 406.20 L253.56 406.20 L253.86 406.20 L254.16 406.20 L254.46 406.20 L254.75 406.20 L255.05 406.20 L255.35 406.20 L255.65 406.20 L255.94 406.20 L256.24 406.20 L256.54 406.20 L256.84 406.20 L257.13 406.20 L257.43 406.20 L257.73 406.20 L258.03 406.20 L258.32 406.20 L258.62 406.20 L258.92 406.20 L259.21 406.20 L259.51 406.20 L259.81 406.20 L260.11 406.20 L260.40 406.20 L260.70 406.20 L261.00 406.20 L261.30 406.20 L261.59 406.20 L261.89 406.20 L262.19 406.20 L262.49 406.20 L262.78 406.20 L263.08 406.20 L263.38 406.20 L263.68 406.20 L263.97 406.20 L264.27 406.20 L264.57 406.20 L264.87 406.20 L265.16 406.20 L265.46 406.20 L265.76 406.20 L266.06 406.20 L266.35 406.20 L266.65 406.20 L266.95 406.20 L267.24 406.20 L267.54 406.20 L267.84 406.20 L268.14 406.20 L268.43 406.20 L268.73 406.20 L269.03 406.20 L269.33 406.20 L269.62 406.20 L269.92 406.20 L270.22 406.20 L270.52 406.20 L270.81 406.20 L271.11 406.20 L271.41 406.20 L271.71 406.20 L272.00 406.20 L272.30 406.20 L272.60 406.20 L272.90 406.20 L273.19 406.20 L273.49 406.20 L273.79 406.20 L274.08 406.20 L274.38 406.20 L274.68 406.20 L274.98 406.76 L275.27 407.32 L275.57 407.88 L275.87 408.44 L276.17 408.99 L276.46 409.55 L276.76 410.11 L277.06 410.66 L277.36 411.22 L277.65 411.78 L277.95 412.33 L278.25 412.89 L278.55 413.44 L278.84 414.00 L279.14 414.55 L279.44 415.10 L279.74 415.66 L280.03 416.21 L280.33 416.76 L280.63 417.31 L280.93 417.86 L281.22 418.41 L281.52 418.96 L281.82 419.51 L282.11 420.06 L282.41 420.61 L282.71 421.16 L283.01 421.71 L283.30 422.25 L283.60 422.80 L283.90 423.35 L284.20 423.89 L284.49 424.43 L284.79 424.98 L285.09 425.52 L285.39 426.07 L285.68 426.61 L285.98 427.15 L286.28 427.69 L286.58 428.23 L286.87 428.77 L287.17 429.31 L287.47 429.85 L287.77 430.39 L288.06 430.92 L288.36 431.46 L288.66 431.99 L288.95 432.53 L289.25 433.06 L289.55 433.60 L289.85 434.13 L290.14 434.66 L290.44 435.19 L290.74 435.72 L291.04 436.25 L291.33 436.78 L291.63 437.31 L291.93 437.83 L292.23 438.36 L292.52 438.88 L292.82 439.41 L293.12 439.93 L293.42 440.45 L293.71 440.97 L294.01 441.49 L294.31 442.01 L294.61 442.53 L294.90 443.05 L295.20 443.56 L295.50 444.08 L295.80 444.59 L296.09 445.10 L296.39 445.61 L296.69 446.12 L296.98 446.63 L297.28 447.14 L297.58 447.65 L297.88 448.15 L298.17 448.65 L298.47 449.16 L298.77 449.66 L299.07 450.16 L299.36 450.66 L299.66 451.15 L299.96 451.65 L300.26 452.14 L300.55 452.63 L300.85 453.12 L301.15 453.61 L301.45 454.10 L301.74 454.59 L302.04 455.07 L302.34 455.55 L302.64 456.03 L302.93 456.51 L303.23 456.99 L303.53 457.47 L303.82 457.94 L304.12 458.41 L304.42 458.88 L304.72 459.35 L305.01 459.81 L305.31 460.27 L305.61 460.74 L305.91 461.19 L306.20 461.65 L306.50 462.10 L306.80 462.56 L307.10 463.01 L307.39 463.45 L307.69 463.90 L307.99 464.34 L308.29 464.78 L308.58 465.21 L308.88 465.65 L309.18 466.08 L309.48 466.51 L309.77 466.93 L310.07 467.35 L310.37 467.77 L310.67 468.19 L310.96 468.60 L311.26 469.01 L311.56 469.41 L311.85 469.82 L312.15 470.22 L312.45 470.61 L312.75 471.00 L313.04 471.39 L313.34 471.78 L313.64 472.16 L313.94 472.53 L314.23 472.90 L314.53 473.27 L314.83 473.64 L315.13 474.00 L315.42 474.35 L315.72 474.70 L316.02 475.05 L316.32 475.39 L316.61 475.73 L316.91 476.06 L317.21 476.39 L317.51 476.71 L317.80 477.02 L318.10 477.34 L318.40 477.64 L318.69 477.94 L318.99 478.24 L319.29 478.53 L319.59 478.81 L319.88 479.09 L320.18 479.36 L320.48 479.62 L320.78 479.88 L321.07 480.14 L321.37 480.38 L321.67 480.62 L321.97 480.86 L322.26 481.08 L322.56 481.30 L322.86 481.51 L323.16 481.72 L323.45 481.92 L323.75 482.11 L324.05 482.29 L324.35 482.47 L324.64 482.64 L324.94 482.80 L325.24 482.95 L325.53 483.10 L325.83 483.24 L326.13 483.37 L326.43 483.49 L326.72 483.60 L327.02 483.71 L327.32 483.81 L327.62 483.89 L327.91 483.98 L328.21 484.05 L328.51 484.11 L328.81 484.17 L329.10 484.21 L329.40 484.25 L329.70 484.28 L330.00 484.30 L330.29 484.32 L330.59 484.32 L330.89 484.32 L331.19 484.31 L331.48 484.30 L331.78 484.28 L332.08 484.25 L332.38 484.22 L332.67 484.19 L332.97 484.15 L333.27 484.10 L333.56 484.05 L333.86 483.99 L334.16 483.93 L334.46 483.86 L334.75 483.78 L335.05 483.70 L335.35 483.62 L335.65 483.53 L335.94 483.43 L336.24 483.33 L336.54 483.23 L336.84 483.12 L337.13 483.00 L337.43 482.88 L337.73 482.76 L338.03 482.63 L338.32 482.49 L338.62 482.35 L338.92 482.21 L339.22 482.06 L339.51 481.90 L339.81 481.74 L340.11 481.58 L340.40 481.41 L340.70 481.24 L341.00 481.06 L341.30 480.88 L341.59 480.69 L341.89 480.50 L342.19 480.31 L342.49 480.11 L342.78 479.90 L343.08 479.70 L343.38 479.49 L343.68 479.27 L343.97 479.05 L344.27 478.83 L344.57 478.60 L344.87 478.37 L345.16 478.14 L345.46 477.90 L345.76 477.66 L346.06 477.41 L346.35 477.16 L346.65 476.91 L346.95 476.66 L347.25 476.40 L347.54 476.14 L347.84 475.87 L348.14 475.60 L348.43 475.33 L348.73 475.06 L349.03 474.78 L349.33 474.50 L349.62 474.22 L349.92 473.93 L350.22 473.64 L350.52 473.35 L350.81 473.05 L351.11 472.76 L351.41 472.46 L351.71 472.16 L352.00 471.85 L352.30 471.54 L352.60 471.23 L352.90 470.92 L353.19 470.60 L353.49 470.29 L353.79 469.97 L354.09 469.65 L354.38 469.32 L354.68 469.00 L354.98 468.67 L355.27 468.34 L355.57 468.00 L355.87 467.67 L356.17 467.33 L356.46 466.99 L356.76 466.65 L357.06 466.31 L357.36 465.97 L357.65 465.62 L357.95 465.27 L358.25 464.92 L358.55 464.57 L358.84 464.22 L359.14 463.86 L359.44 463.51 L359.74 463.15 L360.03 462.79 L360.33 462.43 L360.63 462.06 L360.93 461.70 L361.22 461.33 L361.52 460.97 L361.82 460.60 L362.12 460.23 L362.41 459.86 L362.71 459.48 L363.01 459.11 L363.30 458.73 L363.60 458.36 L363.90 457.98 L364.20 457.60 L364.49 457.22 L364.79 456.83 L365.09 456.45 L365.39 456.07 L365.68 455.68 L365.98 455.29 L366.28 454.91 L366.58 454.52 L366.87 454.13 L367.17 453.74 L367.47 453.34 L367.77 452.95 L368.06 452.56 L368.36 452.16 L368.66 451.76 L368.96 451.37 L369.25 450.97 L369.55 450.57 L369.85 450.17 L370.14 449.77 L370.44 449.37 L370.74 448.96 L371.04 448.56 L371.33 448.16 L371.63 447.75 L371.93 447.34 L372.23 446.94 L372.52 446.53 L372.82 446.12 L373.12 445.71 L373.42 445.30 L373.71 444.89 L374.01 444.48 L374.31 444.07 L374.61 443.65 L374.90 443.24 L375.20 442.83 L375.50 442.41 L375.80 441.99 L376.09 441.58 L376.39 441.16 L376.69 440.74 L376.99 440.32 L377.28 439.90 L377.58 439.49 L377.88 439.06 L378.17 438.64 L378.47 438.22 L378.77 437.80 L379.07 437.38 L379.36 436.95 L379.66 436.53 L379.96 436.11 L380.26 435.68 L380.55 435.26 L380.85 434.83 L381.15 434.40 L381.45 433.98 L381.74 433.55 L382.04 433.12 L382.34 432.69 L382.64 432.26 L382.93 431.83 L383.23 431.40 L383.53 430.97 L383.83 430.54 L384.12 430.11" fill="none" stroke="#2ca02c" stroke-width="1.1" stroke-dasharray="3.4 1.6" stroke-linejoin="round"/>
<rect x="329.09" y="482.82" width="3" height="3" fill="#000"/>
<rect x="364.78" y="509.72" width="3" height="3" fill="#000"/>
<rect x="382.62" y="498.03" width="3" height="3" fill="#000"/>
<text class="t" x="331" y="484">[73,103.96]</text>
<text class="t" x="348.4" y="497.2">[118,65.79]</text>
<text class="t" x="331" y="510.2">[103,36.45]</text>
<rect x="236.75" y="401.00" width="154.25" height="114.70" fill="none" stroke="#4d4d4d" stroke-width="0.75"/>
<rect x="239.30" y="481.40" width="63.00" height="31.00" rx="1.2" fill="#fff" fill-opacity="0.8" stroke="#ccc" stroke-width="0.5"/>
<path d="M241.80 487.10 H255.40" stroke="#1f77b4" stroke-width="1.1" fill="none"/>
<text class="t" x="261.00" y="489.40">Obs_USV</text>
<path d="M241.80 496.90 H255.40" stroke="#ff7f0e" stroke-width="1.2" stroke-dasharray="1 1.15" fill="none"/>
<text class="t" x="261.00" y="499.20">Static_Obs1</text>
<path d="M241.80 506.70 H255.40" stroke="#2ca02c" stroke-width="1.1" stroke-dasharray="3.4 1.6" fill="none"/>
<text class="t" x="261.00" y="509.00">Static_Obs2</text>
</svg></body></html>
